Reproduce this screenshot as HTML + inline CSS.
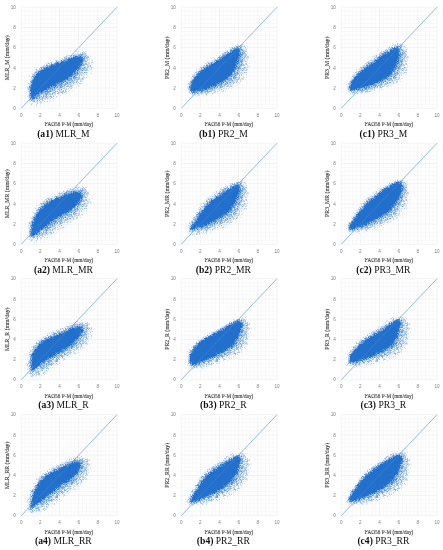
<!DOCTYPE html><html><head><meta charset="utf-8"><style>html,body{margin:0;padding:0;background:#fff;width:443px;height:550px;overflow:hidden}svg{position:absolute;left:0;top:0;display:block}.t{font-family:"Liberation Sans",Arial,sans-serif;font-size:4.6px;fill:#808080}.a{font-family:"Liberation Serif","Times New Roman",serif;font-size:5.3px;fill:#474747;stroke:#474747;stroke-width:.14px}.c{font-family:"Liberation Serif","Times New Roman",serif;font-size:9.6px;fill:#111}.y{font-family:"Liberation Serif","Times New Roman",serif;font-size:5.8px;fill:#474747;stroke:#474747;stroke-width:.14px}</style></head><body>
<svg width="443" height="550" viewBox="0 0 443 550">
<defs>
<filter id="fc" x="-20%" y="-20%" width="140%" height="140%" color-interpolation-filters="sRGB">
<feGaussianBlur in="SourceGraphic" stdDeviation="0.9" result="D"/>
<feTurbulence type="fractalNoise" baseFrequency="2.2" numOctaves="1" seed="3" result="n"/>
<feColorMatrix in="n" type="matrix" values="0 0 0 0 0 0 0 0 0 0 0 0 0 0 0 2.5 0 0 0 -.75" result="na"/>
<feComposite in="D" in2="na" operator="arithmetic" k1="0" k2="2.2" k3="-1.2" k4="0" result="d"/>
<feGaussianBlur in="d" stdDeviation="0.2" result="d2"/>
<feFlood flood-color="#2270cc"/>
<feComposite in2="d2" operator="in"/>
</filter>
<filter id="fh" x="-20%" y="-20%" width="140%" height="140%" color-interpolation-filters="sRGB">
<feGaussianBlur in="SourceGraphic" stdDeviation="1.0" result="D"/>
<feTurbulence type="fractalNoise" baseFrequency="2.2" numOctaves="1" seed="11" result="n"/>
<feColorMatrix in="n" type="matrix" values="0 0 0 0 0 0 0 0 0 0 0 0 0 0 0 2.5 0 0 0 -.75" result="na"/>
<feComposite in="D" in2="na" operator="arithmetic" k1="0" k2="1.75" k3="-0.75" k4="0" result="d"/>
<feGaussianBlur in="d" stdDeviation="0.2" result="d2"/>
<feFlood flood-color="#2270cc"/>
<feComposite in2="d2" operator="in"/>
</filter>
</defs>
<g transform="translate(0,0)"><path d="M25 7.2V108.3M21.2 104.3H117M28.9 7.2V108.3M21.2 100.2H117M32.7 7.2V108.3M21.2 96.2H117M36.5 7.2V108.3M21.2 92.1H117M44.2 7.2V108.3M21.2 84H117M48 7.2V108.3M21.2 80H117M51.9 7.2V108.3M21.2 75.9H117M55.7 7.2V108.3M21.2 71.9H117M63.4 7.2V108.3M21.2 63.8H117M67.2 7.2V108.3M21.2 59.8H117M71 7.2V108.3M21.2 55.7H117M74.8 7.2V108.3M21.2 51.7H117M82.5 7.2V108.3M21.2 43.6H117M86.3 7.2V108.3M21.2 39.6H117M90.2 7.2V108.3M21.2 35.5H117M94 7.2V108.3M21.2 31.5H117M101.7 7.2V108.3M21.2 23.4H117M105.5 7.2V108.3M21.2 19.3H117M109.3 7.2V108.3M21.2 15.3H117M113.2 7.2V108.3M21.2 11.2H117" stroke="#f3f3f3" stroke-width=".5" fill="none"/><path d="M21.2 7.2V108.3M21.2 108.3H117M40.4 7.2V108.3M21.2 88.1H117M59.5 7.2V108.3M21.2 67.9H117M78.7 7.2V108.3M21.2 47.6H117M97.8 7.2V108.3M21.2 27.4H117M117 7.2V108.3M21.2 7.2H117" stroke="#e6e6e6" stroke-width=".5" fill="none"/><path d="M21.2 108.3L117 7.2" stroke="#98c2e6" stroke-width="1.0"/><path d="M32.8 98.4L32.5 94.2L32.7 87.7L34.2 81.9L36.5 77L40.2 73.4L45.4 70.1L50.8 68.1L56.6 65.9L62.4 63.8L68.2 61.6L73.7 59.5L77.9 58.4L80.2 58.5L81.3 59.6L79.8 62.1L76.9 66.4L72.8 71.6L67.5 76.1L62.1 79.4L55.2 82.8L48 85.7L41.8 88.8L37 92.2L32.9 96.4L31.6 98.6Z" fill="#2270cc"/><g filter="url(#fh)"><path d="M90.6 75.2L88.7 77.4L86.8 79.4L85.1 81.3L83.6 83L81.7 84.4L79.8 85.7L78.2 86.9L76.6 87.9L75.1 89L73.6 89.8L72.1 90.6L70.7 91.4L69.3 92.1L68 92.8L66.7 93.5L65.4 94.1L64.1 94.7L62.8 95.3L61.5 95.9L60.2 96.6L58.9 97.2L57.5 97.9L56 98.6L54.5 99.4L52.8 100.2L51.1 101.1L49.1 102.1L47 103.1L44.6 104.3L42 105.3L39.2 106.1L36.3 106.6L33.8 106.2L31.1 105.7L29.4 103.7L28.2 101.4L27.1 99.2L27 96.2L27 93.5L27 91L27 88.7L27.2 86.5L27.6 84.3L28.1 82.2L28.5 80.3L28.9 78.5L29.3 76.8L30.4 75.2L31.5 73.7L32.4 72.3L33.4 71L34.2 69.7L35.5 68.7L36.9 67.9L38.1 67.1L39.3 66.4L40.4 65.8L41.4 65.1L42.4 64.6L43.5 64.2L44.5 63.8L45.4 63.4L46.3 63L47.2 62.6L48.1 62.2L49 61.9L49.8 61.5L50.7 61.1L51.6 60.8L52.5 60.5L53.5 60.1L54.5 59.8L55.5 59.4L56.6 59L57.8 58.6L59 58.2L60.4 57.7L62 57L63.8 56.3L65.9 55.4L68.4 54.4L71.2 53.4L74.4 52.5L78.2 51.5L82.3 50.8L85.6 51.3L87.8 52.9L90.2 54.6L92.3 56.5L92.9 59.2L93.6 61.9L94.2 64.5L94.1 67.3L92.9 70.1L91.7 72.7Z" fill-opacity=".200"/><path d="M87.8 75.2L86 77.2L84.2 79.1L82.6 80.8L81.1 82.3L79.4 83.6L77.7 84.8L76.2 85.9L74.7 86.9L73.4 87.8L71.9 88.6L70.6 89.3L69.3 90L68 90.6L66.8 91.3L65.6 91.9L64.5 92.5L63.3 93L62.1 93.6L60.9 94.2L59.7 94.7L58.5 95.3L57.2 96L55.9 96.6L54.5 97.3L53 98L51.4 98.8L49.6 99.7L47.6 100.7L45.4 101.8L43.1 102.6L40.5 103.4L37.9 103.9L35.4 103.7L32.8 103.4L29.9 103.2L28.8 100.9L27.7 98.7L27.6 95.8L27.6 93.1L27.6 90.7L27.6 88.4L27.8 86.2L28.3 84.1L28.8 82.1L29.2 80.2L29.7 78.4L30.1 76.8L31.2 75.2L32.3 73.7L33.3 72.4L34.2 71.1L35.1 70L36.3 69L37.6 68.2L38.9 67.5L40 66.8L41 66.2L42 65.6L43 65.1L44 64.7L44.9 64.3L45.8 63.9L46.7 63.6L47.6 63.2L48.4 62.9L49.2 62.5L50.1 62.2L50.9 61.8L51.8 61.5L52.6 61.2L53.5 60.9L54.5 60.5L55.5 60.2L56.5 59.8L57.6 59.4L58.8 59L60.1 58.5L61.6 57.9L63.3 57.2L65.3 56.4L67.7 55.4L70.4 54.5L73.4 53.5L77.1 52.5L81.2 51.8L84.6 52.1L86.9 53.5L89.1 55.2L90.8 57.3L91.1 60L91.4 62.6L91.7 65.2L91.5 67.8L90.2 70.5L88.9 72.9Z" fill-opacity=".079"/><path d="M85 75.2L83.3 77.1L81.7 78.8L80.2 80.3L78.7 81.7L77.1 82.9L75.6 83.9L74.2 84.9L72.9 85.8L71.6 86.6L70.3 87.3L69.1 88L67.9 88.6L66.8 89.2L65.7 89.8L64.6 90.3L63.5 90.8L62.5 91.4L61.4 91.9L60.3 92.4L59.2 92.9L58.1 93.5L57 94L55.8 94.6L54.5 95.2L53.1 95.9L51.7 96.6L50.1 97.4L48.3 98.2L46.3 99.2L44.2 100L41.9 100.7L39.4 101.3L37.1 101.2L34.5 101.2L30.4 102.7L29.3 100.4L28.3 98.2L28.1 95.4L28.2 92.8L28.2 90.4L28.3 88.1L28.5 85.9L29 83.8L29.4 81.9L30 80L30.4 78.3L30.9 76.7L32 75.2L33.1 73.8L34.1 72.5L35 71.3L36 70.2L37.2 69.3L38.4 68.5L39.6 67.8L40.6 67.2L41.6 66.6L42.6 66.1L43.6 65.6L44.5 65.2L45.4 64.8L46.3 64.5L47.1 64.1L47.9 63.8L48.7 63.5L49.5 63.2L50.3 62.8L51.1 62.5L51.9 62.2L52.7 61.9L53.6 61.6L54.5 61.3L55.4 61L56.4 60.6L57.5 60.2L58.6 59.8L59.8 59.3L61.3 58.8L62.9 58.1L64.8 57.4L67 56.5L69.5 55.6L72.5 54.6L76.1 53.6L80 52.7L83.6 52.9L85.9 54.2L88 55.8L89.3 58L89.3 60.8L89.3 63.4L89.2 65.9L88.8 68.4L87.5 70.8L86.2 73.1Z" fill-opacity=".086"/><path d="M82.2 75.2L80.6 76.9L79.1 78.4L77.7 79.8L76.3 81L74.9 82.1L73.5 83L72.2 83.9L71 84.7L69.9 85.5L68.7 86.1L67.6 86.7L66.5 87.2L65.5 87.8L64.5 88.3L63.6 88.8L62.6 89.2L61.6 89.7L60.7 90.2L59.7 90.6L58.7 91.1L57.7 91.6L56.7 92.1L55.6 92.6L54.5 93.1L53.3 93.7L52 94.3L50.5 95L49 95.8L47.2 96.6L45.3 97.3L43.2 98L41 98.6L38.7 98.7L36.3 98.9L30.8 102.1L29.8 99.8L28.9 97.6L28.7 95L28.7 92.4L28.8 90L28.9 87.8L29.2 85.6L29.7 83.6L30.1 81.7L30.7 79.9L31.2 78.2L31.7 76.7L32.9 75.2L34 73.8L35 72.6L35.9 71.5L36.9 70.5L38 69.6L39.2 68.9L40.3 68.2L41.3 67.6L42.3 67L43.2 66.5L44.1 66.1L45 65.7L45.9 65.4L46.7 65L47.5 64.7L48.3 64.4L49 64.1L49.8 63.8L50.5 63.5L51.3 63.2L52 62.9L52.8 62.6L53.6 62.3L54.5 62L55.4 61.7L56.3 61.4L57.3 61L58.4 60.6L59.6 60.2L60.9 59.7L62.4 59L64.2 58.3L66.3 57.5L68.7 56.6L71.5 55.7L75 54.7L78.9 53.7L82.5 53.7L85 54.8L86.9 56.4L87.8 58.7L87.4 61.5L87.1 64.1L86.7 66.5L86.1 68.9L84.8 71.2L83.4 73.3Z" fill-opacity=".094"/><path d="M79.4 75.2L77.9 76.7L76.5 78.1L75.2 79.3L73.9 80.4L72.6 81.3L71.3 82.2L70.2 82.9L69.1 83.6L68.1 84.3L67.1 84.8L66.1 85.4L65.1 85.8L64.2 86.3L63.4 86.8L62.5 87.2L61.7 87.6L60.8 88L60 88.4L59.1 88.8L58.3 89.3L57.4 89.7L56.4 90.1L55.5 90.6L54.5 91.1L53.4 91.6L52.2 92.1L51 92.7L49.6 93.3L48.1 94L46.4 94.7L44.5 95.3L42.5 95.9L40.4 96.2L38 96.7L31.3 101.6L30.4 99.3L29.5 97.1L29.3 94.5L29.3 92L29.4 89.7L29.5 87.5L29.9 85.4L30.3 83.4L30.8 81.5L31.4 79.8L32 78.1L32.5 76.6L33.7 75.2L34.8 73.9L35.8 72.7L36.7 71.6L37.7 70.7L38.9 69.9L40 69.2L41 68.5L42 68L42.9 67.4L43.8 67L44.7 66.6L45.5 66.2L46.4 65.9L47.1 65.6L47.9 65.3L48.6 65L49.3 64.7L50 64.4L50.7 64.2L51.5 63.9L52.2 63.6L52.9 63.3L53.7 63.1L54.5 62.8L55.3 62.5L56.2 62.2L57.1 61.8L58.2 61.4L59.3 61L60.5 60.5L62 60L63.6 59.3L65.6 58.5L67.9 57.7L70.6 56.8L73.9 55.7L77.8 54.7L81.5 54.5L84 55.4L85.8 57.1L86.3 59.5L85.6 62.3L84.9 64.8L84.3 67.2L83.4 69.4L82.1 71.5L80.7 73.5Z" fill-opacity=".104"/><path d="M76.6 75.2L75.2 76.5L74 77.7L72.7 78.8L71.5 79.7L70.3 80.6L69.2 81.3L68.2 81.9L67.2 82.5L66.4 83.1L65.5 83.6L64.6 84L63.8 84.5L63 84.9L62.2 85.3L61.5 85.6L60.7 86L60 86.4L59.3 86.7L58.5 87.1L57.8 87.4L57 87.8L56.2 88.2L55.4 88.6L54.5 89L53.5 89.4L52.5 89.8L51.5 90.3L50.3 90.9L48.9 91.5L47.5 92L45.9 92.6L44 93.3L42.1 93.8L39.7 94.4L31.7 101.1L30.9 98.8L30.1 96.6L29.8 94.1L29.9 91.6L29.9 89.3L30.1 87.2L30.5 85.1L31 83.1L31.5 81.3L32.2 79.6L32.8 78L33.4 76.6L34.5 75.2L35.6 73.9L36.6 72.8L37.5 71.8L38.6 70.9L39.7 70.2L40.8 69.5L41.8 68.9L42.7 68.4L43.5 67.8L44.4 67.4L45.2 67.1L46.1 66.8L46.8 66.5L47.6 66.2L48.3 65.9L49 65.6L49.6 65.4L50.3 65.1L51 64.8L51.6 64.6L52.3 64.3L53 64.1L53.7 63.8L54.5 63.5L55.3 63.2L56.1 62.9L57 62.6L57.9 62.3L59 61.9L60.2 61.4L61.5 60.9L63.1 60.3L64.9 59.6L67.1 58.8L69.6 57.9L72.9 56.8L76.7 55.7L80.4 55.3L83.1 56.1L84.7 57.7L84.8 60.2L83.8 63L82.8 65.6L81.8 67.9L80.7 70L79.5 71.9L78 73.6Z" fill-opacity=".116"/><path d="M73.9 75.2L72.6 76.4L71.4 77.4L70.2 78.3L69.1 79.1L68 79.8L67.1 80.4L66.2 81L65.4 81.5L64.6 82L63.8 82.4L63.1 82.7L62.4 83.1L61.7 83.4L61.1 83.8L60.4 84.1L59.8 84.4L59.2 84.7L58.5 85L57.9 85.3L57.3 85.6L56.6 85.9L55.9 86.3L55.2 86.6L54.5 86.9L53.7 87.2L52.8 87.6L51.9 88L50.9 88.4L49.8 88.9L48.6 89.4L47.2 89.9L45.6 90.6L43.7 91.3L41.4 92.2L32.2 100.6L31.4 98.2L30.7 96.1L30.4 93.7L30.5 91.2L30.5 89L30.8 86.9L31.2 84.8L31.7 82.9L32.2 81.1L32.9 79.5L33.6 77.9L34.2 76.5L35.3 75.2L36.4 74L37.5 72.9L38.4 72L39.5 71.2L40.6 70.5L41.6 69.8L42.5 69.3L43.3 68.7L44.1 68.3L45 67.9L45.8 67.6L46.6 67.3L47.3 67L48 66.7L48.7 66.5L49.3 66.2L49.9 66L50.6 65.7L51.2 65.5L51.8 65.3L52.5 65L53.1 64.8L53.8 64.5L54.5 64.3L55.2 64L56 63.7L56.8 63.4L57.7 63.1L58.7 62.7L59.8 62.3L61.1 61.8L62.5 61.2L64.2 60.6L66.2 59.8L68.7 59L71.8 57.8L75.6 56.7L79.4 56.1L82.1 56.7L83.6 58.3L83.3 61L81.9 63.8L80.6 66.3L79.3 68.5L78 70.5L76.8 72.2L75.2 73.8Z" fill-opacity=".131"/><path d="M32.7 100L30.9 94.4L31.1 87.5L32.7 81.3L35.2 76L39.2 72.1L44.7 68.7L50.3 66.6L56.1 64.4L61.8 62.3L67.6 60.1L73.3 57.9L77.8 56.8L80.9 57.1L82.9 59.3L81.2 62.9L78.2 67.4L74 72.8L68.4 77.4L62.9 80.8L55.8 84.3L48.6 87.2L42.6 90.2L38 93.4L34.2 97.4L33 99.3Z" fill-opacity="1"/></g><path d="M21.2 108.3L117 7.2" stroke="#98c2e6" stroke-width="1.0" opacity="0.15"/><text class="t" x="21.2" y="116.5" text-anchor="middle">0</text><text class="t" x="15.9" y="109.9" text-anchor="end">0</text><text class="t" x="40.4" y="116.5" text-anchor="middle">2</text><text class="t" x="15.9" y="89.7" text-anchor="end">2</text><text class="t" x="59.5" y="116.5" text-anchor="middle">4</text><text class="t" x="15.9" y="69.5" text-anchor="end">4</text><text class="t" x="78.7" y="116.5" text-anchor="middle">6</text><text class="t" x="15.9" y="49.2" text-anchor="end">6</text><text class="t" x="97.8" y="116.5" text-anchor="middle">8</text><text class="t" x="15.9" y="29" text-anchor="end">8</text><text class="t" x="117" y="116.5" text-anchor="middle">10</text><text class="t" x="15.9" y="8.8" text-anchor="end">10</text><text class="a" x="69.1" y="126" text-anchor="middle">FAO56 P-M (mm/day)</text><text class="y" transform="translate(9.2,57.8) rotate(-90)" text-anchor="middle">MLR_M (mm/day)</text><text class="c" x="63.4" y="136.6" text-anchor="middle"><tspan font-weight="bold">(a1)</tspan> MLR_M</text></g>
<g transform="translate(160,0)"><path d="M25 7.2V108.3M21.2 104.3H117M28.9 7.2V108.3M21.2 100.2H117M32.7 7.2V108.3M21.2 96.2H117M36.5 7.2V108.3M21.2 92.1H117M44.2 7.2V108.3M21.2 84H117M48 7.2V108.3M21.2 80H117M51.9 7.2V108.3M21.2 75.9H117M55.7 7.2V108.3M21.2 71.9H117M63.4 7.2V108.3M21.2 63.8H117M67.2 7.2V108.3M21.2 59.8H117M71 7.2V108.3M21.2 55.7H117M74.8 7.2V108.3M21.2 51.7H117M82.5 7.2V108.3M21.2 43.6H117M86.3 7.2V108.3M21.2 39.6H117M90.2 7.2V108.3M21.2 35.5H117M94 7.2V108.3M21.2 31.5H117M101.7 7.2V108.3M21.2 23.4H117M105.5 7.2V108.3M21.2 19.3H117M109.3 7.2V108.3M21.2 15.3H117M113.2 7.2V108.3M21.2 11.2H117" stroke="#f3f3f3" stroke-width=".5" fill="none"/><path d="M21.2 7.2V108.3M21.2 108.3H117M40.4 7.2V108.3M21.2 88.1H117M59.5 7.2V108.3M21.2 67.9H117M78.7 7.2V108.3M21.2 47.6H117M97.8 7.2V108.3M21.2 27.4H117M117 7.2V108.3M21.2 7.2H117" stroke="#e6e6e6" stroke-width=".5" fill="none"/><path d="M21.2 108.3L117 7.2" stroke="#98c2e6" stroke-width="1.0"/><path d="M32.6 89.4L32.4 86.2L33.8 82.3L37 77.9L41.5 73.1L46.9 69.5L52.6 65.9L58.4 62.3L64.2 58.7L70 55.1L74.3 52.1L76.7 50.1L78 50.3L77.8 53.9L76 59.3L73.7 66.3L70.7 71.5L66.7 76L61.3 80L54.3 83.4L47.3 86.2L40.3 88.4L34.8 89.7L32.8 90.1Z" fill="#2270cc"/><g filter="url(#fh)"><path d="M88.5 72.2L87.7 74.3L86.9 76.3L86.2 78.2L84.5 79.9L82.9 81.4L81.4 82.7L80 84L78.6 85.3L76.9 86.2L75.2 87L73.7 87.7L72.2 88.4L70.8 89.1L69.4 89.7L68 90.2L66.7 90.7L65.4 91.2L64.1 91.6L62.8 92.1L61.5 92.6L60.1 93L58.8 93.3L57.4 93.7L56 94.1L54.6 94.5L53 94.9L51.4 95.3L49.8 95.5L48.1 95.7L46.2 95.9L44.2 96.2L42.1 96.4L39.8 96.6L37.2 96.8L34.3 97L32 96.3L29.8 95.3L27.9 93.9L27.6 91.2L27.4 88.8L27.2 86.5L27 84.2L28 81.7L28.9 79.5L29.7 77.5L31.1 75.5L32.6 73.8L34 72.2L35.2 70.9L36.4 69.7L37.7 68.6L38.9 67.7L40 66.8L41 66L41.9 65.3L42.8 64.6L43.6 63.9L44.5 63.4L45.4 62.9L46.2 62.4L47 61.9L47.8 61.5L48.5 61L49.3 60.6L50 60.1L50.8 59.6L51.6 59.2L52.4 58.7L53.2 58.2L54.1 57.7L55 57.2L56 56.6L57.1 56L58.3 55.3L59.6 54.5L61.1 53.4L62.8 52.2L64.9 50.7L67.6 48.8L71 46.3L74.6 44.4L78.6 42.8L81.3 43.4L83.9 44.4L86.7 45.3L88 47.7L88.9 50.3L89.8 52.8L90.6 55.2L90.9 57.8L90.7 60.5L90.5 63L90.3 65.4L90.2 67.7L89.4 70Z" fill-opacity=".200"/><path d="M86.2 72.2L85.4 74.2L84.6 76L83.8 77.8L82.3 79.3L80.8 80.7L79.4 81.9L78.1 83.1L76.9 84.3L75.3 85.1L73.8 85.9L72.4 86.6L71 87.2L69.7 87.9L68.5 88.4L67.2 88.9L65.9 89.4L64.7 89.8L63.5 90.3L62.3 90.7L61.1 91.2L59.9 91.6L58.6 91.9L57.3 92.3L56 92.7L54.7 93.1L53.2 93.5L51.7 93.9L50.2 94.1L48.5 94.4L46.7 94.6L44.8 94.9L42.8 95.2L40.5 95.4L38 95.7L35.2 96L32.8 95.5L30.4 94.7L28.4 93.4L28.1 90.9L27.9 88.5L27.8 86.2L27.8 83.9L28.8 81.5L29.8 79.3L30.7 77.3L32.1 75.4L33.6 73.7L34.9 72.2L36.1 70.9L37.3 69.8L38.6 68.8L39.7 67.9L40.8 67.1L41.7 66.3L42.6 65.6L43.4 65L44.3 64.4L45.1 63.9L45.9 63.4L46.7 62.9L47.4 62.4L48.2 62L48.9 61.6L49.6 61.1L50.3 60.7L51.1 60.3L51.8 59.8L52.6 59.4L53.4 58.9L54.2 58.4L55.1 57.9L56 57.4L57 56.8L58.1 56.1L59.4 55.3L60.8 54.4L62.5 53.2L64.5 51.8L67 50L70.2 47.7L73.7 45.8L77.6 44.2L80.6 44.2L83.2 45.1L85.6 46.3L86.8 48.6L87.4 51.3L88 53.8L88.6 56.2L88.8 58.7L88.6 61.2L88.3 63.6L88 65.9L87.8 68.1L87 70.2Z" fill-opacity=".079"/><path d="M83.9 72.2L83 74L82.2 75.7L81.5 77.3L80.1 78.7L78.8 80L77.5 81.1L76.3 82.2L75.1 83.3L73.7 84.1L72.3 84.8L71 85.4L69.8 86L68.7 86.6L67.5 87.2L66.3 87.7L65.2 88.1L64.1 88.5L63 89L61.8 89.4L60.7 89.8L59.6 90.2L58.4 90.6L57.2 90.9L56 91.3L54.7 91.7L53.4 92.1L52 92.5L50.5 92.8L49 93L47.3 93.4L45.4 93.7L43.5 94L41.3 94.3L38.9 94.6L36.1 95L33.6 94.7L31 94.2L28.9 93L28.6 90.6L28.4 88.2L28.4 85.9L28.5 83.6L29.6 81.2L30.7 79L31.7 77.1L33 75.3L34.5 73.7L35.7 72.2L36.9 71L38.2 69.9L39.4 68.9L40.5 68.1L41.5 67.3L42.4 66.6L43.3 66L44.1 65.4L44.9 64.8L45.7 64.3L46.5 63.8L47.2 63.4L47.9 63L48.6 62.5L49.3 62.1L50 61.7L50.6 61.3L51.3 60.9L52 60.5L52.8 60L53.5 59.6L54.3 59.1L55.1 58.6L56 58.1L57 57.5L58 56.9L59.2 56.2L60.6 55.3L62.2 54.2L64 52.9L66.4 51.3L69.4 49.1L72.7 47.3L76.6 45.5L80 44.9L82.5 45.8L84.6 47.2L85.5 49.6L85.9 52.3L86.3 54.8L86.7 57.1L86.7 59.5L86.4 61.9L86.1 64.2L85.7 66.3L85.4 68.4L84.7 70.4Z" fill-opacity=".086"/><path d="M81.5 72.2L80.7 73.9L79.9 75.4L79.1 76.8L77.9 78.1L76.7 79.2L75.6 80.3L74.4 81.3L73.4 82.2L72.1 83L70.9 83.6L69.7 84.3L68.6 84.8L67.6 85.4L66.5 85.9L65.5 86.4L64.4 86.8L63.4 87.2L62.4 87.6L61.4 88L60.4 88.4L59.3 88.8L58.3 89.2L57.2 89.5L56 89.9L54.8 90.3L53.6 90.7L52.3 91.1L50.9 91.4L49.4 91.7L47.8 92.1L46.1 92.5L44.1 92.8L42.1 93.1L39.7 93.5L37 94L34.4 93.9L31.7 93.6L29.5 92.6L29.1 90.2L28.9 87.9L29 85.6L29.2 83.3L30.4 80.9L31.6 78.8L32.6 76.9L34 75.1L35.4 73.6L36.6 72.2L37.8 71L39 70L40.2 69.1L41.3 68.3L42.3 67.6L43.2 66.9L44 66.3L44.8 65.7L45.5 65.2L46.3 64.8L47 64.3L47.7 63.9L48.4 63.5L49 63.1L49.7 62.7L50.3 62.3L50.9 61.9L51.6 61.5L52.3 61.1L52.9 60.7L53.6 60.3L54.4 59.8L55.2 59.4L56 58.9L56.9 58.3L57.9 57.7L59 57L60.3 56.2L61.8 55.2L63.6 54L65.8 52.5L68.6 50.5L71.7 48.7L75.5 46.8L79.3 45.7L81.8 46.5L83.5 48.1L84.3 50.5L84.4 53.3L84.5 55.8L84.7 58.1L84.6 60.4L84.3 62.7L83.9 64.8L83.4 66.8L83 68.7L82.3 70.5Z" fill-opacity=".094"/><path d="M79.2 72.2L78.3 73.7L77.5 75.1L76.8 76.4L75.7 77.5L74.6 78.5L73.6 79.5L72.6 80.4L71.6 81.2L70.5 81.9L69.4 82.5L68.4 83.1L67.4 83.7L66.5 84.2L65.6 84.7L64.6 85.1L63.7 85.5L62.8 85.9L61.9 86.3L60.9 86.7L60 87.1L59 87.4L58.1 87.8L57.1 88.2L56 88.5L54.9 88.9L53.8 89.3L52.5 89.7L51.3 90L49.9 90.4L48.3 90.8L46.7 91.2L44.8 91.6L42.8 92L40.5 92.4L37.9 93L35.2 93.1L32.3 93L30 92.2L29.6 89.9L29.4 87.6L29.6 85.3L30 83L31.2 80.7L32.4 78.6L33.6 76.7L35 75L36.3 73.5L37.5 72.2L38.7 71.1L39.9 70.1L41.1 69.3L42.1 68.5L43 67.8L43.9 67.2L44.7 66.6L45.4 66.1L46.1 65.6L46.9 65.2L47.5 64.8L48.2 64.4L48.8 64L49.4 63.6L50 63.3L50.6 62.9L51.2 62.5L51.8 62.2L52.5 61.8L53.1 61.4L53.8 61L54.5 60.6L55.2 60.1L56 59.6L56.9 59.1L57.8 58.5L58.9 57.9L60.1 57.1L61.5 56.2L63.1 55.1L65.2 53.7L67.8 51.9L70.8 50.2L74.5 48.1L78.7 46.4L81.1 47.2L82.5 49L83 51.5L82.9 54.3L82.8 56.8L82.7 59.1L82.5 61.3L82.1 63.4L81.7 65.4L81.1 67.2L80.6 69L79.9 70.7Z" fill-opacity=".104"/><path d="M76.8 72.2L76 73.5L75.2 74.8L74.4 75.9L73.5 76.9L72.5 77.8L71.7 78.7L70.7 79.5L69.9 80.2L68.9 80.8L68 81.4L67.1 81.9L66.2 82.5L65.4 83L64.6 83.4L63.8 83.9L63 84.3L62.1 84.6L61.3 85L60.5 85.3L59.6 85.7L58.8 86.1L57.9 86.4L57 86.8L56 87.2L55 87.6L54 87.9L52.8 88.3L51.6 88.7L50.3 89.1L48.9 89.5L47.3 90L45.5 90.4L43.6 90.9L41.4 91.4L38.7 92L36 92.3L32.9 92.5L30.6 91.8L30 89.6L29.9 87.3L30.2 85L30.7 82.7L32 80.4L33.3 78.3L34.5 76.5L35.9 74.9L37.2 73.5L38.3 72.2L39.6 71.2L40.8 70.2L41.9 69.4L42.9 68.7L43.8 68.1L44.6 67.5L45.4 67L46.1 66.5L46.8 66.1L47.4 65.7L48.1 65.3L48.7 64.9L49.3 64.5L49.8 64.2L50.4 63.8L51 63.5L51.5 63.1L52.1 62.8L52.7 62.4L53.3 62.1L53.9 61.7L54.6 61.3L55.3 60.8L56 60.4L56.8 59.9L57.7 59.4L58.7 58.7L59.8 58L61.1 57.2L62.7 56.1L64.6 54.9L67 53.3L69.8 51.6L73.5 49.4L78 47.1L80.4 47.9L81.4 50L81.8 52.5L81.4 55.3L81 57.8L80.8 60L80.4 62.1L79.9 64.1L79.5 66L78.8 67.7L78.2 69.3L77.5 70.8Z" fill-opacity=".116"/><path d="M74.5 72.2L73.6 73.4L72.8 74.4L72.1 75.4L71.3 76.3L70.5 77.1L69.7 77.9L68.9 78.6L68.1 79.2L67.3 79.8L66.5 80.3L65.8 80.8L65 81.3L64.3 81.7L63.7 82.2L63 82.6L62.2 83L61.5 83.3L60.7 83.6L60 84L59.3 84.3L58.5 84.7L57.7 85L56.9 85.4L56 85.8L55.1 86.2L54.1 86.6L53.1 86.9L52 87.3L50.8 87.7L49.4 88.2L47.9 88.7L46.2 89.2L44.3 89.7L42.2 90.3L39.6 91L36.8 91.5L33.6 91.9L31.1 91.3L30.5 89.3L30.4 87L30.8 84.7L31.5 82.4L32.8 80.1L34.2 78.1L35.5 76.3L36.9 74.8L38.1 73.4L39.2 72.2L40.4 71.2L41.7 70.3L42.8 69.6L43.7 68.9L44.6 68.4L45.4 67.8L46.1 67.3L46.8 66.9L47.4 66.5L48 66.1L48.6 65.7L49.2 65.4L49.7 65L50.3 64.7L50.8 64.4L51.3 64.1L51.8 63.7L52.4 63.4L52.9 63.1L53.5 62.7L54.1 62.4L54.7 62L55.3 61.6L56 61.2L56.8 60.7L57.6 60.2L58.5 59.6L59.6 58.9L60.8 58.1L62.2 57.2L64 56.1L66.2 54.7L68.8 53.1L72.5 50.8L77.4 47.9L79.7 48.6L80.4 50.9L80.5 53.4L79.8 56.3L79.3 58.8L78.8 61L78.3 63L77.8 64.9L77.3 66.5L76.5 68.2L75.8 69.6L75.1 71Z" fill-opacity=".131"/><path d="M31.1 89.9L30.8 86L32.4 81.6L35.8 76.9L40.4 71.8L46 68.2L51.8 64.6L57.6 61L63.3 57.3L69.1 53.7L73.3 50.8L76.4 48.5L79.2 49.3L79.4 54.1L77.5 59.8L75.2 66.9L72 72.4L67.7 77.2L62.1 81.4L55 84.9L47.9 87.7L40.7 89.9L35.1 91.3L32.1 91.6Z" fill-opacity="1"/></g><path d="M21.2 108.3L117 7.2" stroke="#98c2e6" stroke-width="1.0" opacity="0.15"/><text class="t" x="21.2" y="116.5" text-anchor="middle">0</text><text class="t" x="15.9" y="109.9" text-anchor="end">0</text><text class="t" x="40.4" y="116.5" text-anchor="middle">2</text><text class="t" x="15.9" y="89.7" text-anchor="end">2</text><text class="t" x="59.5" y="116.5" text-anchor="middle">4</text><text class="t" x="15.9" y="69.5" text-anchor="end">4</text><text class="t" x="78.7" y="116.5" text-anchor="middle">6</text><text class="t" x="15.9" y="49.2" text-anchor="end">6</text><text class="t" x="97.8" y="116.5" text-anchor="middle">8</text><text class="t" x="15.9" y="29" text-anchor="end">8</text><text class="t" x="117" y="116.5" text-anchor="middle">10</text><text class="t" x="15.9" y="8.8" text-anchor="end">10</text><text class="a" x="69.1" y="126" text-anchor="middle">FAO56 P-M (mm/day)</text><text class="y" transform="translate(9.2,57.8) rotate(-90)" text-anchor="middle">PR2_M (mm/day)</text><text class="c" x="63.4" y="136.6" text-anchor="middle"><tspan font-weight="bold">(b1)</tspan> PR2_M</text></g>
<g transform="translate(320,0)"><path d="M25 7.2V108.3M21.2 104.3H117M28.9 7.2V108.3M21.2 100.2H117M32.7 7.2V108.3M21.2 96.2H117M36.5 7.2V108.3M21.2 92.1H117M44.2 7.2V108.3M21.2 84H117M48 7.2V108.3M21.2 80H117M51.9 7.2V108.3M21.2 75.9H117M55.7 7.2V108.3M21.2 71.9H117M63.4 7.2V108.3M21.2 63.8H117M67.2 7.2V108.3M21.2 59.8H117M71 7.2V108.3M21.2 55.7H117M74.8 7.2V108.3M21.2 51.7H117M82.5 7.2V108.3M21.2 43.6H117M86.3 7.2V108.3M21.2 39.6H117M90.2 7.2V108.3M21.2 35.5H117M94 7.2V108.3M21.2 31.5H117M101.7 7.2V108.3M21.2 23.4H117M105.5 7.2V108.3M21.2 19.3H117M109.3 7.2V108.3M21.2 15.3H117M113.2 7.2V108.3M21.2 11.2H117" stroke="#f3f3f3" stroke-width=".5" fill="none"/><path d="M21.2 7.2V108.3M21.2 108.3H117M40.4 7.2V108.3M21.2 88.1H117M59.5 7.2V108.3M21.2 67.9H117M78.7 7.2V108.3M21.2 47.6H117M97.8 7.2V108.3M21.2 27.4H117M117 7.2V108.3M21.2 7.2H117" stroke="#e6e6e6" stroke-width=".5" fill="none"/><path d="M21.2 108.3L117 7.2" stroke="#98c2e6" stroke-width="1.0"/><path d="M31.7 88.9L32.1 85.7L33.7 81.8L37.5 77.3L42.2 73.1L47.9 68.8L53.6 64.4L59.3 60.1L64.9 56.5L70.6 52.9L74.3 50.5L76.7 49.4L77.4 51.4L76.7 56.7L74.9 63.4L71.8 69.2L67.6 74.2L62.4 78L55.5 81.4L48.6 84.1L41.6 86.2L34.5 87.6L31.4 88.6Z" fill="#2270cc"/><g filter="url(#fh)"><path d="M88 70.8L87.5 72.8L86.4 74.7L85 76.4L83.6 78L82.3 79.5L81.1 80.9L79.7 82.2L78 83.2L76.4 84L74.9 84.9L73.5 85.6L72.2 86.4L70.8 87L69.4 87.4L68 87.9L66.7 88.3L65.4 88.7L64.2 89.2L63 89.6L61.7 89.9L60.5 90.3L59.2 90.6L57.9 90.9L56.6 91.2L55.2 91.6L53.8 91.9L52.3 92.3L50.7 92.7L49 93L47.2 93.4L45.2 93.9L43 94.3L40.7 94.5L38.3 94.7L35.5 94.8L32.6 94.7L29.8 94.2L27.2 93.3L27.2 90.4L27.1 87.8L27.1 85.3L27 83L28.5 80.3L29.9 77.9L31.1 75.8L32.6 73.9L34.1 72.3L35.4 70.8L36.6 69.5L37.7 68.3L39 67.3L40.1 66.4L41.2 65.6L42.1 64.8L43 64.1L43.8 63.4L44.6 62.8L45.4 62.2L46.2 61.7L47 61.1L47.7 60.6L48.4 60.1L49.1 59.6L49.9 59.1L50.6 58.6L51.3 58.1L52.1 57.5L52.9 56.9L53.7 56.3L54.6 55.6L55.5 54.8L56.6 53.9L57.7 53L59.1 52L60.5 50.9L62.2 49.7L64.2 48.4L66.5 46.7L69.1 45.5L72 44L75.3 42.8L78.5 42.2L82.2 41.6L83.8 43.5L85.5 45.4L87.2 47.3L88.9 49.2L89.4 51.8L89.6 54.5L89.9 57L90.1 59.4L90.3 61.7L89.7 64.2L89.1 66.5L88.6 68.7Z" fill-opacity=".200"/><path d="M85.8 70.8L85.3 72.7L84.2 74.4L82.9 76L81.6 77.5L80.4 78.9L79.3 80.2L78 81.3L76.4 82.2L75 83.1L73.6 83.8L72.3 84.6L71.1 85.2L69.8 85.8L68.5 86.3L67.2 86.7L66 87.1L64.8 87.5L63.7 87.9L62.5 88.3L61.4 88.7L60.2 89L59 89.3L57.8 89.7L56.6 90L55.3 90.3L54 90.7L52.6 91.1L51.1 91.4L49.4 91.8L47.7 92.2L45.8 92.7L43.7 93.2L41.5 93.4L39.1 93.6L36.4 93.8L33.5 93.8L30.7 93.5L27.8 92.8L27.7 90.1L27.6 87.5L27.7 85L27.8 82.7L29.4 80L30.8 77.7L32.2 75.6L33.7 73.8L35.2 72.2L36.5 70.8L37.6 69.5L38.7 68.4L39.9 67.5L41 66.6L42 65.8L42.9 65.1L43.7 64.4L44.5 63.8L45.3 63.2L46 62.7L46.8 62.2L47.5 61.7L48.2 61.2L48.8 60.7L49.5 60.2L50.2 59.7L50.9 59.2L51.6 58.8L52.3 58.2L53.1 57.6L53.8 57L54.7 56.3L55.6 55.6L56.6 54.8L57.7 54L58.9 53L60.3 52L61.9 50.9L63.8 49.6L66 48.1L68.4 46.8L71.2 45.4L74.4 44.1L77.7 43.3L81.3 42.6L83 44.3L84.6 46.2L86 48.2L87.4 50.2L87.7 52.8L87.9 55.4L88 57.8L88.1 60.1L88.2 62.3L87.5 64.6L86.9 66.8L86.4 68.8Z" fill-opacity=".079"/><path d="M83.6 70.8L83 72.5L82 74.1L80.8 75.6L79.6 76.9L78.5 78.2L77.5 79.4L76.3 80.5L74.8 81.3L73.5 82.1L72.2 82.8L71.1 83.5L69.9 84.1L68.8 84.7L67.6 85.1L66.4 85.5L65.3 85.9L64.3 86.3L63.2 86.7L62.1 87.1L61.1 87.5L60 87.8L58.9 88.1L57.7 88.4L56.6 88.8L55.4 89.1L54.1 89.5L52.8 89.8L51.4 90.2L49.9 90.6L48.2 91L46.4 91.5L44.3 92L42.2 92.2L39.9 92.5L37.2 92.8L34.4 92.9L31.5 92.7L28.4 92.4L28.1 89.8L28.1 87.2L28.3 84.7L28.6 82.4L30.2 79.7L31.7 77.4L33.2 75.4L34.7 73.7L36.2 72.1L37.5 70.8L38.6 69.6L39.7 68.6L40.9 67.7L41.9 66.8L42.8 66.1L43.7 65.4L44.5 64.8L45.2 64.2L45.9 63.7L46.6 63.1L47.3 62.7L48 62.2L48.6 61.7L49.3 61.3L49.9 60.8L50.6 60.3L51.2 59.9L51.9 59.4L52.6 58.9L53.3 58.4L54 57.8L54.8 57.1L55.6 56.5L56.6 55.7L57.6 54.9L58.8 54L60.1 53.1L61.6 52L63.4 50.8L65.4 49.4L67.7 48.2L70.5 46.8L73.5 45.4L76.9 44.3L80.5 43.5L82.2 45.2L83.7 47L84.7 49.2L85.9 51.2L86.1 53.7L86.1 56.2L86.1 58.5L86.2 60.7L86.1 62.9L85.4 65L84.8 67.1L84.2 69Z" fill-opacity=".086"/><path d="M81.4 70.8L80.7 72.4L79.8 73.8L78.7 75.2L77.6 76.4L76.6 77.6L75.6 78.7L74.5 79.6L73.2 80.4L72 81.1L70.9 81.8L69.8 82.4L68.8 83L67.8 83.5L66.7 84L65.7 84.4L64.6 84.7L63.7 85.1L62.7 85.5L61.7 85.9L60.7 86.2L59.7 86.5L58.7 86.9L57.7 87.2L56.6 87.5L55.5 87.9L54.3 88.2L53 88.6L51.7 89L50.3 89.4L48.7 89.8L47 90.3L45 90.8L43 91.1L40.7 91.5L38.1 91.8L35.4 92L32.4 92L29 92L28.6 89.5L28.6 86.9L29 84.4L29.4 82L31.1 79.4L32.6 77.2L34.2 75.2L35.8 73.5L37.2 72.1L38.5 70.8L39.6 69.7L40.7 68.7L41.8 67.8L42.8 67.1L43.6 66.4L44.4 65.7L45.2 65.2L45.9 64.6L46.6 64.1L47.2 63.6L47.9 63.1L48.5 62.7L49.1 62.3L49.7 61.8L50.3 61.4L50.9 61L51.5 60.5L52.2 60.1L52.8 59.6L53.5 59.1L54.1 58.5L54.9 57.9L55.7 57.3L56.6 56.6L57.6 55.8L58.7 55L59.9 54.1L61.3 53.2L62.9 52L64.9 50.7L67.1 49.6L69.7 48.1L72.7 46.7L76.1 45.4L79.7 44.5L81.4 46L82.7 47.9L83.5 50.1L84.4 52.2L84.4 54.7L84.3 57.1L84.3 59.3L84.2 61.4L83.9 63.5L83.2 65.5L82.6 67.4L82 69.1Z" fill-opacity=".094"/><path d="M79.2 70.8L78.5 72.2L77.6 73.5L76.6 74.8L75.6 75.9L74.7 76.9L73.8 77.9L72.8 78.8L71.6 79.5L70.6 80.1L69.6 80.7L68.6 81.3L67.7 81.9L66.8 82.4L65.8 82.8L64.9 83.2L64 83.6L63.1 83.9L62.2 84.3L61.3 84.6L60.4 85L59.5 85.3L58.5 85.6L57.6 85.9L56.6 86.3L55.5 86.7L54.4 87L53.3 87.4L52 87.8L50.7 88.2L49.2 88.6L47.5 89.1L45.7 89.6L43.8 90L41.5 90.4L39 90.8L36.3 91.1L33.2 91.3L29.6 91.5L29 89.2L29.1 86.7L29.6 84.1L30.2 81.7L32 79.1L33.6 76.9L35.2 75L36.8 73.4L38.2 72L39.5 70.8L40.7 69.7L41.7 68.8L42.7 68L43.6 67.3L44.4 66.7L45.2 66.1L45.9 65.5L46.6 65L47.2 64.5L47.8 64.1L48.4 63.6L49 63.2L49.6 62.8L50.1 62.4L50.7 62L51.3 61.6L51.8 61.2L52.4 60.7L53 60.3L53.6 59.8L54.3 59.3L55 58.7L55.8 58.2L56.6 57.5L57.5 56.8L58.5 56L59.7 55.2L61 54.3L62.5 53.3L64.3 52.1L66.4 50.9L68.9 49.5L71.8 48L75.3 46.4L78.8 45.4L80.5 46.8L81.8 48.7L82.3 51L82.9 53.2L82.8 55.6L82.6 58L82.4 60.1L82.2 62.1L81.8 64L81.1 65.9L80.4 67.6L79.8 69.3Z" fill-opacity=".104"/><path d="M76.9 70.8L76.2 72.1L75.4 73.3L74.4 74.3L73.6 75.3L72.8 76.3L72 77.2L71 77.9L70 78.5L69.1 79.1L68.2 79.7L67.4 80.2L66.6 80.8L65.8 81.2L64.9 81.7L64.1 82L63.3 82.4L62.5 82.7L61.7 83L60.9 83.4L60.1 83.7L59.2 84L58.4 84.4L57.5 84.7L56.6 85.1L55.6 85.4L54.6 85.8L53.5 86.1L52.4 86.5L51.1 86.9L49.7 87.4L48.1 87.9L46.4 88.4L44.5 88.8L42.4 89.3L39.9 89.8L37.2 90.2L34.1 90.5L30.2 91.1L29.5 88.9L29.6 86.4L30.2 83.8L31 81.4L32.9 78.8L34.5 76.7L36.3 74.8L37.8 73.2L39.2 71.9L40.5 70.8L41.7 69.8L42.7 68.9L43.6 68.2L44.5 67.5L45.3 66.9L46 66.4L46.6 65.9L47.3 65.4L47.9 64.9L48.4 64.5L49 64.1L49.5 63.7L50.1 63.3L50.6 63L51.1 62.6L51.6 62.2L52.2 61.8L52.7 61.4L53.3 61L53.8 60.5L54.5 60.1L55.1 59.5L55.8 59L56.6 58.4L57.4 57.7L58.4 57L59.5 56.2L60.7 55.4L62.1 54.5L63.8 53.4L65.7 52.3L68.1 50.9L70.9 49.3L74.5 47.5L78 46.4L79.7 47.6L80.9 49.5L81.1 52L81.4 54.2L81.2 56.6L80.8 58.8L80.5 60.9L80.2 62.7L79.7 64.6L78.9 66.3L78.3 67.9L77.7 69.4Z" fill-opacity=".116"/><path d="M74.7 70.8L73.9 71.9L73.1 73L72.3 73.9L71.6 74.8L70.9 75.6L70.1 76.4L69.3 77L68.4 77.6L67.6 78.2L66.9 78.7L66.1 79.2L65.4 79.6L64.7 80.1L64.1 80.5L63.3 80.8L62.6 81.2L61.9 81.5L61.2 81.8L60.4 82.1L59.7 82.5L59 82.8L58.2 83.1L57.4 83.5L56.6 83.8L55.7 84.2L54.8 84.5L53.8 84.9L52.7 85.3L51.5 85.7L50.2 86.2L48.7 86.7L47.1 87.2L45.3 87.7L43.2 88.2L40.7 88.8L38.1 89.3L34.9 89.8L30.7 90.6L30 88.6L30.1 86.1L30.9 83.5L31.8 81.1L33.8 78.5L35.4 76.5L37.3 74.6L38.9 73.1L40.2 71.9L41.6 70.8L42.7 69.9L43.7 69.1L44.6 68.4L45.4 67.8L46.1 67.2L46.7 66.7L47.4 66.2L47.9 65.8L48.5 65.4L49 65L49.5 64.6L50 64.2L50.5 63.9L51 63.5L51.5 63.2L52 62.8L52.5 62.4L53 62.1L53.5 61.7L54 61.2L54.6 60.8L55.2 60.3L55.9 59.8L56.6 59.3L57.4 58.7L58.3 58L59.3 57.3L60.4 56.6L61.7 55.7L63.2 54.7L65 53.6L67.3 52.2L70.1 50.6L73.7 48.5L77.2 47.3L78.9 48.5L79.9 50.3L79.9 52.9L79.9 55.2L79.5 57.5L79.1 59.7L78.7 61.6L78.3 63.4L77.5 65.2L76.8 66.8L76.1 68.2L75.5 69.5Z" fill-opacity=".131"/><path d="M30.4 89.8L30.6 85.4L32.4 81L36.3 76.2L41.2 71.8L46.9 67.5L52.7 63.2L58.4 58.8L64.1 55.2L69.8 51.5L73.7 49.1L77.4 47.9L79 51.1L78.3 57L76.4 64L73.1 70.1L68.7 75.3L63.2 79.3L56.2 82.8L49.1 85.6L42 87.8L34.9 89.2L31.4 90.2Z" fill-opacity="1"/></g><path d="M21.2 108.3L117 7.2" stroke="#98c2e6" stroke-width="1.0" opacity="0.15"/><text class="t" x="21.2" y="116.5" text-anchor="middle">0</text><text class="t" x="15.9" y="109.9" text-anchor="end">0</text><text class="t" x="40.4" y="116.5" text-anchor="middle">2</text><text class="t" x="15.9" y="89.7" text-anchor="end">2</text><text class="t" x="59.5" y="116.5" text-anchor="middle">4</text><text class="t" x="15.9" y="69.5" text-anchor="end">4</text><text class="t" x="78.7" y="116.5" text-anchor="middle">6</text><text class="t" x="15.9" y="49.2" text-anchor="end">6</text><text class="t" x="97.8" y="116.5" text-anchor="middle">8</text><text class="t" x="15.9" y="29" text-anchor="end">8</text><text class="t" x="117" y="116.5" text-anchor="middle">10</text><text class="t" x="15.9" y="8.8" text-anchor="end">10</text><text class="a" x="69.1" y="126" text-anchor="middle">FAO56 P-M (mm/day)</text><text class="y" transform="translate(9.2,57.8) rotate(-90)" text-anchor="middle">PR3_M (mm/day)</text><text class="c" x="63.4" y="136.6" text-anchor="middle"><tspan font-weight="bold">(c1)</tspan> PR3_M</text></g>
<g transform="translate(0,136)"><path d="M25 7.2V108.3M21.2 104.3H117M28.9 7.2V108.3M21.2 100.2H117M32.7 7.2V108.3M21.2 96.2H117M36.5 7.2V108.3M21.2 92.1H117M44.2 7.2V108.3M21.2 84H117M48 7.2V108.3M21.2 80H117M51.9 7.2V108.3M21.2 75.9H117M55.7 7.2V108.3M21.2 71.9H117M63.4 7.2V108.3M21.2 63.8H117M67.2 7.2V108.3M21.2 59.8H117M71 7.2V108.3M21.2 55.7H117M74.8 7.2V108.3M21.2 51.7H117M82.5 7.2V108.3M21.2 43.6H117M86.3 7.2V108.3M21.2 39.6H117M90.2 7.2V108.3M21.2 35.5H117M94 7.2V108.3M21.2 31.5H117M101.7 7.2V108.3M21.2 23.4H117M105.5 7.2V108.3M21.2 19.3H117M109.3 7.2V108.3M21.2 15.3H117M113.2 7.2V108.3M21.2 11.2H117" stroke="#f3f3f3" stroke-width=".5" fill="none"/><path d="M21.2 7.2V108.3M21.2 108.3H117M40.4 7.2V108.3M21.2 88.1H117M59.5 7.2V108.3M21.2 67.9H117M78.7 7.2V108.3M21.2 47.6H117M97.8 7.2V108.3M21.2 27.4H117M117 7.2V108.3M21.2 7.2H117" stroke="#e6e6e6" stroke-width=".5" fill="none"/><path d="M21.2 108.3L117 7.2" stroke="#98c2e6" stroke-width="1.0"/><path d="M31.9 99.6L33.2 94.9L34.6 88.3L37.4 81.6L41.5 75L46 70.5L51.3 67.2L57.5 64.4L64 61.6L69.5 59.5L74.6 58L77.7 57.9L79.5 58.8L79.2 61.4L76.9 65L73 69.2L67.6 73.1L61.9 76.6L56.1 80.2L50.2 84L44.3 88.4L38.5 92.8L34.1 96.5L31.5 98.7Z" fill="#2270cc"/><g filter="url(#fh)"><path d="M87.7 74.7L85.8 76.7L84.1 78.5L82.5 80.2L80.8 81.7L78.8 82.9L77 83.9L75.4 84.9L74 85.8L72.6 86.6L71.3 87.3L70 88.1L68.8 88.8L67.7 89.4L66.5 90.1L65.5 90.7L64.4 91.4L63.3 92.1L62.2 92.7L61.1 93.4L60 94.2L58.8 94.9L57.5 95.8L56.2 96.7L54.7 97.7L53.2 98.8L51.4 100L49.5 101.1L47.3 102.3L44.9 103.6L42.3 104.6L39.5 105.5L36.3 106.6L33.5 106.4L30.8 105.9L28 105.1L27.7 101.7L27.4 98.7L27.1 95.9L27.2 93L27.7 90.3L28.1 87.8L28.5 85.5L29.5 83.3L30.3 81.2L31.1 79.4L31.8 77.7L32.6 76.1L33.5 74.7L34.4 73.3L35.1 72.1L35.9 70.9L36.6 69.8L37.3 68.8L38.2 67.8L39.2 67L40.1 66.2L41 65.5L41.8 64.7L42.6 64L43.4 63.4L44.4 62.9L45.3 62.4L46.2 61.9L47.1 61.5L48 61.1L48.9 60.6L49.8 60.2L50.7 59.7L51.7 59.3L52.7 58.9L53.7 58.5L54.7 58L55.9 57.6L57.1 57.1L58.3 56.5L59.8 55.9L61.3 55.3L63.1 54.5L65.1 53.7L67.4 52.7L69.9 51.9L72.9 51L76.2 50.2L79.5 49.9L83.2 49.7L85.4 51.1L87.7 52.6L90.1 54.2L91.1 56.7L91.5 59.4L91.9 62L92.3 64.6L91.3 67.4L90.1 70L89 72.4Z" fill-opacity=".200"/><path d="M84.9 74.7L83.1 76.5L81.5 78.2L80 79.7L78.4 81L76.6 82.1L75 83.1L73.5 84L72.2 84.8L70.9 85.5L69.7 86.2L68.6 86.8L67.5 87.5L66.5 88.1L65.5 88.7L64.5 89.3L63.5 89.9L62.5 90.5L61.5 91.1L60.5 91.7L59.5 92.4L58.4 93.1L57.3 93.9L56 94.7L54.7 95.6L53.3 96.6L51.7 97.7L50 98.7L48 99.7L45.8 101L43.4 102L40.8 102.9L37.8 104L35.1 104.1L32.1 104.1L28.7 104.4L28.2 101.2L28 98.1L27.9 95.3L28 92.5L28.5 89.8L29 87.4L29.5 85.1L30.4 82.9L31.2 81L32 79.2L32.7 77.6L33.5 76.1L34.4 74.7L35.2 73.4L36 72.2L36.8 71.1L37.5 70.1L38.2 69L39.1 68.2L40 67.4L40.8 66.6L41.7 65.9L42.5 65.3L43.2 64.6L44 64L44.9 63.5L45.8 63L46.7 62.6L47.5 62.2L48.4 61.7L49.2 61.3L50.1 60.9L50.9 60.5L51.8 60.1L52.8 59.7L53.7 59.3L54.7 58.9L55.8 58.4L56.9 57.9L58.2 57.4L59.5 56.9L61 56.2L62.7 55.5L64.6 54.7L66.8 53.8L69.2 53L72 52.1L75.3 51.3L78.5 50.9L82.1 50.7L84.4 51.9L86.7 53.4L88.8 55L89.6 57.5L89.7 60.2L89.8 62.8L89.9 65.3L88.7 67.9L87.4 70.4L86.2 72.6Z" fill-opacity=".079"/><path d="M82.1 74.7L80.4 76.4L78.9 77.9L77.5 79.2L76 80.4L74.4 81.4L73 82.2L71.6 83L70.4 83.7L69.3 84.4L68.2 85L67.2 85.6L66.3 86.2L65.3 86.7L64.4 87.3L63.5 87.8L62.6 88.4L61.8 88.9L60.9 89.5L59.9 90L59 90.6L58 91.2L57 92L55.9 92.7L54.7 93.5L53.4 94.4L52 95.4L50.4 96.3L48.7 97.2L46.7 98.4L44.5 99.3L42.1 100.3L39.3 101.5L36.6 101.9L33.5 102.3L29.3 103.6L28.7 100.7L28.6 97.6L28.6 94.8L28.8 92L29.3 89.3L29.9 86.9L30.4 84.7L31.3 82.6L32.2 80.7L33 79L33.7 77.4L34.5 76L35.3 74.7L36.1 73.5L36.9 72.3L37.7 71.3L38.4 70.3L39 69.3L39.9 68.5L40.7 67.8L41.5 67.1L42.4 66.4L43.1 65.8L43.9 65.2L44.6 64.6L45.5 64.1L46.3 63.7L47.1 63.3L47.9 62.8L48.7 62.4L49.5 62L50.3 61.6L51.1 61.2L52 60.9L52.9 60.5L53.8 60.1L54.7 59.7L55.7 59.3L56.8 58.8L58 58.3L59.3 57.8L60.7 57.2L62.3 56.5L64.1 55.8L66.2 54.9L68.5 54.1L71.2 53.2L74.3 52.3L77.5 51.9L81 51.6L83.4 52.7L85.6 54.1L87.5 55.8L88.1 58.2L88 60.9L87.7 63.5L87.4 65.9L86.2 68.4L84.7 70.7L83.4 72.8Z" fill-opacity=".086"/><path d="M79.3 74.7L77.7 76.2L76.2 77.5L75 78.7L73.6 79.7L72.2 80.6L70.9 81.4L69.8 82.1L68.7 82.7L67.7 83.3L66.7 83.9L65.8 84.4L65 84.9L64.1 85.4L63.3 85.9L62.5 86.4L61.8 86.8L61 87.3L60.2 87.8L59.4 88.3L58.5 88.9L57.7 89.4L56.8 90L55.8 90.7L54.7 91.4L53.6 92.2L52.3 93.1L50.9 93.8L49.4 94.7L47.6 95.7L45.6 96.7L43.4 97.7L40.8 98.9L38.1 99.6L34.9 100.5L30 102.9L29.3 100.1L29.2 97.1L29.3 94.2L29.6 91.5L30.2 88.9L30.8 86.5L31.4 84.3L32.2 82.3L33.1 80.5L33.9 78.8L34.7 77.3L35.4 75.9L36.2 74.7L37 73.5L37.8 72.4L38.5 71.5L39.2 70.5L39.9 69.6L40.7 68.9L41.5 68.2L42.3 67.5L43 66.9L43.8 66.3L44.5 65.7L45.2 65.2L46 64.7L46.8 64.3L47.5 63.9L48.3 63.5L49 63.1L49.8 62.7L50.6 62.4L51.3 62L52.1 61.7L53 61.3L53.8 60.9L54.7 60.5L55.7 60.1L56.7 59.7L57.8 59.2L59 58.7L60.3 58.2L61.8 57.5L63.6 56.8L65.6 55.9L67.8 55.2L70.4 54.3L73.4 53.4L76.5 52.9L79.9 52.6L82.4 53.4L84.5 54.8L86.2 56.5L86.7 58.9L86.2 61.6L85.6 64.2L85 66.6L83.6 68.9L82 71.1L80.6 73Z" fill-opacity=".094"/><path d="M76.5 74.7L75 76L73.6 77.2L72.4 78.2L71.2 79.1L70 79.9L68.9 80.5L67.9 81.1L66.9 81.7L66.1 82.2L65.2 82.7L64.4 83.2L63.7 83.6L63 84.1L62.3 84.5L61.6 84.9L60.9 85.3L60.2 85.8L59.5 86.2L58.8 86.6L58.1 87.1L57.3 87.6L56.5 88.1L55.7 88.7L54.7 89.3L53.7 90L52.6 90.7L51.4 91.4L50 92.2L48.5 93.1L46.7 94.1L44.7 95.1L42.2 96.3L39.6 97.4L36.3 98.8L30.7 102.1L29.8 99.6L29.8 96.6L30 93.6L30.4 90.9L31 88.4L31.7 86L32.3 84L33.2 82L34.1 80.2L34.9 78.6L35.6 77.2L36.3 75.9L37.1 74.7L37.8 73.6L38.7 72.6L39.4 71.6L40.1 70.8L40.8 69.9L41.5 69.2L42.3 68.5L43 67.9L43.7 67.3L44.5 66.8L45.2 66.3L45.8 65.8L46.6 65.4L47.3 65L48 64.6L48.7 64.2L49.4 63.8L50.1 63.5L50.8 63.1L51.5 62.8L52.3 62.4L53.1 62.1L53.9 61.8L54.7 61.4L55.6 61L56.6 60.6L57.6 60.1L58.8 59.7L60 59.1L61.4 58.5L63.1 57.8L64.9 57L67.1 56.2L69.5 55.4L72.4 54.5L75.5 54L78.8 53.5L81.4 54.2L83.5 55.5L84.8 57.3L85.2 59.7L84.4 62.4L83.5 64.9L82.5 67.2L81 69.5L79.3 71.4L77.9 73.2Z" fill-opacity=".104"/><path d="M73.7 74.7L72.2 75.8L71 76.8L69.9 77.7L68.8 78.5L67.8 79.1L66.8 79.7L66 80.2L65.2 80.7L64.4 81.2L63.7 81.6L63.1 82L62.4 82.4L61.8 82.7L61.2 83.1L60.6 83.5L60 83.8L59.4 84.2L58.8 84.6L58.2 84.9L57.6 85.3L56.9 85.7L56.3 86.2L55.5 86.7L54.7 87.2L53.9 87.8L52.9 88.4L51.9 89L50.7 89.7L49.4 90.5L47.8 91.4L46 92.5L43.7 93.8L41.1 95.1L37.6 97L31.3 101.4L30.3 99.1L30.4 96L30.7 93.1L31.2 90.4L31.8 87.9L32.6 85.6L33.3 83.6L34.1 81.7L35 80L35.8 78.4L36.6 77.1L37.3 75.8L38 74.7L38.7 73.6L39.5 72.7L40.3 71.8L41 71L41.7 70.2L42.4 69.6L43 68.9L43.7 68.3L44.4 67.8L45.1 67.3L45.8 66.8L46.4 66.4L47.1 66L47.8 65.6L48.4 65.2L49.1 64.9L49.7 64.5L50.4 64.2L51.1 63.9L51.7 63.5L52.5 63.2L53.2 62.9L53.9 62.6L54.7 62.2L55.6 61.9L56.5 61.5L57.4 61.1L58.5 60.6L59.7 60.1L61 59.5L62.5 58.8L64.3 58.1L66.3 57.3L68.7 56.5L71.5 55.6L74.5 55L77.7 54.5L80.4 55L82.4 56.2L83.5 58.1L83.7 60.4L82.6 63.1L81.4 65.6L80.1 67.9L78.4 70L76.6 71.8L75.1 73.3Z" fill-opacity=".116"/><path d="M70.9 74.7L69.5 75.6L68.4 76.5L67.4 77.2L66.5 77.8L65.6 78.4L64.8 78.8L64.1 79.3L63.4 79.7L62.8 80.1L62.2 80.4L61.7 80.8L61.1 81.1L60.6 81.4L60.1 81.7L59.6 82L59.1 82.3L58.6 82.6L58.2 82.9L57.6 83.2L57.1 83.6L56.6 83.9L56 84.3L55.4 84.7L54.7 85.1L54 85.6L53.2 86.1L52.4 86.6L51.4 87.2L50.2 87.9L48.9 88.8L47.2 89.9L45.2 91.2L42.6 92.8L39 95.2L32 100.6L30.8 98.6L31 95.5L31.5 92.5L32 89.9L32.6 87.4L33.5 85.1L34.2 83.2L35 81.4L35.9 79.7L36.8 78.2L37.5 76.9L38.2 75.8L38.9 74.7L39.6 73.7L40.4 72.8L41.2 72L41.9 71.2L42.5 70.5L43.2 69.9L43.8 69.3L44.4 68.7L45.1 68.3L45.8 67.8L46.4 67.4L47 67L47.7 66.6L48.3 66.3L48.9 65.9L49.5 65.5L50.1 65.2L50.7 64.9L51.3 64.6L52 64.3L52.6 64L53.3 63.7L54 63.4L54.7 63.1L55.5 62.7L56.4 62.4L57.3 62L58.3 61.5L59.4 61L60.6 60.5L62 59.9L63.7 59.1L65.6 58.4L67.8 57.6L70.5 56.7L73.4 56L76.6 55.5L79.4 55.8L81.3 56.9L82.2 58.8L82.2 61.1L80.9 63.9L79.3 66.3L77.6 68.5L75.8 70.5L73.9 72.2L72.3 73.5Z" fill-opacity=".131"/><path d="M31.2 101L31.6 94.7L33.1 87.8L36 80.9L40.2 74L45 69.2L50.5 65.8L56.9 63L63.3 60.1L69 57.9L74.3 56.4L78.1 56.4L80.9 58L80.8 61.9L78.2 66L74 70.4L68.5 74.4L62.8 78L57 81.6L51.1 85.3L45.3 89.7L39.5 94.1L35.1 97.7L32.5 100Z" fill-opacity="1"/></g><path d="M21.2 108.3L117 7.2" stroke="#98c2e6" stroke-width="1.0" opacity="0.15"/><text class="t" x="21.2" y="116.5" text-anchor="middle">0</text><text class="t" x="15.9" y="109.9" text-anchor="end">0</text><text class="t" x="40.4" y="116.5" text-anchor="middle">2</text><text class="t" x="15.9" y="89.7" text-anchor="end">2</text><text class="t" x="59.5" y="116.5" text-anchor="middle">4</text><text class="t" x="15.9" y="69.5" text-anchor="end">4</text><text class="t" x="78.7" y="116.5" text-anchor="middle">6</text><text class="t" x="15.9" y="49.2" text-anchor="end">6</text><text class="t" x="97.8" y="116.5" text-anchor="middle">8</text><text class="t" x="15.9" y="29" text-anchor="end">8</text><text class="t" x="117" y="116.5" text-anchor="middle">10</text><text class="t" x="15.9" y="8.8" text-anchor="end">10</text><text class="a" x="69.1" y="126" text-anchor="middle">FAO56 P-M (mm/day)</text><text class="y" transform="translate(9.2,57.8) rotate(-90)" text-anchor="middle">MLR_MR (mm/day)</text><text class="c" x="63.4" y="136.6" text-anchor="middle"><tspan font-weight="bold">(a2)</tspan> MLR_MR</text></g>
<g transform="translate(160,136)"><path d="M25 7.2V108.3M21.2 104.3H117M28.9 7.2V108.3M21.2 100.2H117M32.7 7.2V108.3M21.2 96.2H117M36.5 7.2V108.3M21.2 92.1H117M44.2 7.2V108.3M21.2 84H117M48 7.2V108.3M21.2 80H117M51.9 7.2V108.3M21.2 75.9H117M55.7 7.2V108.3M21.2 71.9H117M63.4 7.2V108.3M21.2 63.8H117M67.2 7.2V108.3M21.2 59.8H117M71 7.2V108.3M21.2 55.7H117M74.8 7.2V108.3M21.2 51.7H117M82.5 7.2V108.3M21.2 43.6H117M86.3 7.2V108.3M21.2 39.6H117M90.2 7.2V108.3M21.2 35.5H117M94 7.2V108.3M21.2 31.5H117M101.7 7.2V108.3M21.2 23.4H117M105.5 7.2V108.3M21.2 19.3H117M109.3 7.2V108.3M21.2 15.3H117M113.2 7.2V108.3M21.2 11.2H117" stroke="#f3f3f3" stroke-width=".5" fill="none"/><path d="M21.2 7.2V108.3M21.2 108.3H117M40.4 7.2V108.3M21.2 88.1H117M59.5 7.2V108.3M21.2 67.9H117M78.7 7.2V108.3M21.2 47.6H117M97.8 7.2V108.3M21.2 27.4H117M117 7.2V108.3M21.2 7.2H117" stroke="#e6e6e6" stroke-width=".5" fill="none"/><path d="M21.2 108.3L117 7.2" stroke="#98c2e6" stroke-width="1.0"/><path d="M30.7 93.4L32.3 93.2L35.1 89.3L38.7 84.2L42.3 78.4L46.4 72.9L51.6 67.3L57.8 63.1L64.2 58.7L69.9 55.1L74.6 52.1L77 50.6L78.4 51.6L77 56.5L74.4 63.1L71.3 68.9L67.1 73.8L61.7 78.3L54.9 82.3L48 85.7L41.1 88.5L33.9 90.6L30 92.2Z" fill="#2270cc"/><g filter="url(#fh)"><path d="M87.1 71.6L86.4 73.4L85.7 75.2L84.4 76.9L83.2 78.4L82 79.8L80.9 81.1L79.8 82.4L78.7 83.6L77.2 84.6L75.9 85.5L74.6 86.3L73.3 87.1L72.1 87.9L70.9 88.7L69.7 89.4L68.4 90L67.1 90.5L65.8 91L64.6 91.6L63.3 92.1L62 92.7L60.6 93.2L59.2 93.7L57.8 94.3L56.2 94.8L54.6 95.4L52.9 96L51.1 96.5L49.1 96.9L47.1 97.4L44.8 97.8L42.3 98.3L39.6 98.7L36.6 99.1L33.3 99.4L30.5 98.8L27.4 98.2L27.2 95L27.1 92L27.7 88.9L29.8 85.3L31.6 82.4L33 79.9L34.3 77.8L35.4 76L36.5 74.4L37.4 72.9L38.3 71.6L39.1 70.3L39.9 69.2L40.8 68.2L41.7 67.3L42.5 66.4L43.3 65.6L44.1 64.8L44.8 64.1L45.5 63.4L46.2 62.7L47 62.1L47.7 61.5L48.4 60.9L49.2 60.4L49.9 59.8L50.6 59.2L51.4 58.6L52.1 58L52.9 57.4L53.8 56.7L54.7 56.1L55.6 55.4L56.6 54.7L57.8 53.9L59 53.1L60.3 52.1L61.8 51.2L63.5 50.2L65.4 49.1L67.6 47.7L70 46.7L72.7 45.6L75.8 44.5L78.7 44.2L82 43.9L84.8 44.5L86.1 46.7L87.4 48.8L88.7 50.9L90 52.9L90.1 55.6L89.9 58.3L89.7 60.7L89.6 63L89.4 65.3L88.6 67.5L87.8 69.6Z" fill-opacity=".200"/><path d="M84.8 71.6L84.1 73.3L83.4 74.9L82.2 76.4L81.1 77.8L80 79.1L79 80.3L78 81.5L76.9 82.6L75.6 83.5L74.4 84.3L73.2 85.1L72.1 85.9L70.9 86.6L69.9 87.3L68.7 88L67.5 88.5L66.4 89L65.2 89.5L64 90L62.8 90.6L61.6 91.1L60.4 91.6L59.1 92.1L57.8 92.6L56.3 93.1L54.8 93.7L53.2 94.3L51.5 94.8L49.7 95.2L47.8 95.7L45.6 96.2L43.2 96.7L40.6 97.2L37.7 97.7L34.5 98.1L31.6 97.7L28.3 97.4L27.8 94.6L28.2 91.3L29.1 88.1L31.1 84.7L32.8 81.9L34.2 79.5L35.4 77.5L36.5 75.8L37.5 74.2L38.5 72.8L39.3 71.6L40.1 70.4L40.9 69.3L41.7 68.4L42.6 67.5L43.4 66.7L44.1 65.9L44.9 65.2L45.5 64.5L46.2 63.8L46.9 63.2L47.6 62.6L48.3 62.1L49 61.5L49.6 61L50.3 60.5L51 59.9L51.7 59.4L52.5 58.8L53.2 58.2L54 57.6L54.9 57L55.8 56.4L56.7 55.7L57.8 55L58.9 54.2L60.2 53.3L61.6 52.4L63.1 51.5L64.9 50.4L67.1 49.1L69.3 48.1L72 47L75 45.7L78 45.2L81.3 44.7L84 45.4L85.2 47.5L86.2 49.7L87.2 51.9L88.2 54L88.1 56.6L87.8 59.1L87.6 61.4L87.3 63.6L87.1 65.7L86.4 67.8L85.6 69.7Z" fill-opacity=".079"/><path d="M82.5 71.6L81.8 73.1L81.1 74.6L80.1 76L79 77.3L78 78.4L77.1 79.6L76.1 80.6L75.1 81.6L74 82.4L72.9 83.2L71.8 83.9L70.8 84.6L69.8 85.3L68.8 85.9L67.8 86.5L66.7 87L65.6 87.5L64.6 88L63.5 88.5L62.4 89L61.3 89.5L60.2 90L59 90.4L57.8 90.9L56.5 91.4L55.1 92L53.6 92.5L52 93.1L50.3 93.5L48.5 94L46.4 94.5L44.2 95.1L41.7 95.6L38.8 96.2L35.7 96.7L32.7 96.6L29.3 96.5L28.4 94.1L29.3 90.6L30.5 87.3L32.4 84.1L34 81.4L35.4 79.2L36.6 77.2L37.6 75.6L38.6 74.1L39.5 72.8L40.4 71.6L41.1 70.5L41.9 69.5L42.7 68.6L43.5 67.7L44.2 67L44.9 66.2L45.6 65.6L46.2 64.9L46.9 64.3L47.5 63.7L48.2 63.2L48.8 62.6L49.5 62.1L50.1 61.6L50.8 61.1L51.4 60.6L52.1 60.1L52.8 59.6L53.5 59L54.2 58.5L55 57.9L55.9 57.3L56.8 56.7L57.8 56L58.8 55.3L60 54.4L61.3 53.6L62.8 52.7L64.5 51.6L66.5 50.4L68.7 49.4L71.2 48.3L74.2 47L77.3 46.1L80.7 45.4L83.1 46.2L84.3 48.3L85 50.7L85.7 52.9L86.3 55L86.1 57.6L85.8 59.9L85.4 62.2L85.1 64.2L84.8 66.2L84.1 68.1L83.3 69.9Z" fill-opacity=".086"/><path d="M80.2 71.6L79.5 73L78.9 74.3L77.9 75.6L76.9 76.7L76 77.8L75.1 78.8L74.3 79.7L73.4 80.6L72.3 81.3L71.4 82L70.4 82.7L69.5 83.3L68.6 83.9L67.7 84.5L66.8 85.1L65.8 85.6L64.9 86L63.9 86.5L63 86.9L62 87.4L61 87.8L60 88.3L58.9 88.7L57.8 89.2L56.6 89.7L55.3 90.2L53.9 90.8L52.5 91.3L50.9 91.8L49.2 92.3L47.2 92.9L45.1 93.5L42.7 94.1L40 94.7L36.9 95.4L33.8 95.5L30.3 95.7L28.9 93.7L30.4 89.8L31.8 86.5L33.7 83.4L35.3 80.9L36.6 78.8L37.8 76.9L38.8 75.3L39.7 73.9L40.6 72.7L41.4 71.6L42.1 70.5L42.9 69.6L43.6 68.7L44.4 68L45.1 67.3L45.7 66.6L46.4 65.9L47 65.3L47.5 64.7L48.1 64.2L48.8 63.7L49.4 63.2L50 62.7L50.6 62.3L51.2 61.8L51.8 61.3L52.5 60.8L53.1 60.3L53.8 59.8L54.5 59.3L55.2 58.8L56 58.3L56.8 57.7L57.8 57L58.7 56.3L59.9 55.6L61.1 54.8L62.5 53.9L64.1 52.9L65.9 51.8L68 50.8L70.4 49.6L73.4 48.2L76.6 47.1L80 46.2L82.3 47L83.3 49.1L83.8 51.6L84.2 53.9L84.5 56.1L84.2 58.5L83.8 60.8L83.3 62.9L82.9 64.8L82.5 66.6L81.8 68.4L81 70Z" fill-opacity=".094"/><path d="M77.9 71.6L77.2 72.8L76.6 74L75.7 75.1L74.9 76.1L74 77.1L73.2 78L72.4 78.8L71.6 79.6L70.7 80.2L69.8 80.8L69 81.4L68.2 82L67.4 82.6L66.6 83.1L65.8 83.7L65 84.1L64.1 84.5L63.3 84.9L62.4 85.3L61.6 85.8L60.7 86.2L59.7 86.7L58.8 87.1L57.8 87.5L56.7 88L55.5 88.5L54.3 89.1L52.9 89.6L51.5 90.1L49.9 90.6L48.1 91.2L46 91.9L43.7 92.5L41.1 93.3L38 94L35 94.3L31.2 94.8L29.5 93.2L31.5 89.1L33.2 85.7L35 82.8L36.5 80.4L37.7 78.4L38.9 76.6L39.9 75.1L40.8 73.8L41.6 72.6L42.4 71.6L43.2 70.6L43.8 69.7L44.5 68.9L45.3 68.2L45.9 67.5L46.5 66.9L47.1 66.3L47.7 65.7L48.2 65.2L48.7 64.6L49.3 64.2L49.9 63.7L50.5 63.3L51.1 62.9L51.7 62.5L52.2 62L52.8 61.6L53.4 61.1L54.1 60.7L54.7 60.2L55.4 59.7L56.1 59.2L56.9 58.7L57.8 58.1L58.7 57.4L59.7 56.7L60.8 56L62.1 55.2L63.6 54.2L65.4 53.1L67.3 52.1L69.7 50.9L72.5 49.4L75.8 48L79.4 46.9L81.5 47.8L82.4 49.9L82.6 52.5L82.7 54.9L82.7 57.2L82.2 59.5L81.7 61.6L81.2 63.6L80.7 65.4L80.2 67.1L79.5 68.7L78.7 70.2Z" fill-opacity=".104"/><path d="M75.7 71.6L75 72.7L74.3 73.7L73.5 74.7L72.8 75.6L72.1 76.4L71.3 77.2L70.6 77.9L69.9 78.5L69.1 79.1L68.3 79.7L67.6 80.2L66.9 80.7L66.2 81.2L65.6 81.8L64.9 82.2L64.2 82.6L63.4 83L62.7 83.4L61.9 83.8L61.1 84.2L60.3 84.6L59.5 85L58.7 85.4L57.8 85.9L56.8 86.3L55.7 86.8L54.6 87.4L53.4 87.8L52.1 88.4L50.6 88.9L48.9 89.6L46.9 90.3L44.8 91L42.2 91.8L39.2 92.7L36.1 93.2L32.2 94L30.1 92.8L32.6 88.3L34.6 84.9L36.3 82.1L37.7 79.9L38.9 78L40.1 76.3L41 74.9L41.9 73.6L42.7 72.5L43.4 71.6L44.2 70.7L44.8 69.9L45.5 69.1L46.1 68.4L46.7 67.8L47.3 67.2L47.9 66.7L48.4 66.1L48.9 65.6L49.4 65.1L49.9 64.7L50.5 64.3L51 63.9L51.6 63.5L52.1 63.1L52.6 62.7L53.2 62.3L53.8 61.9L54.3 61.5L54.9 61.1L55.6 60.6L56.2 60.1L57 59.6L57.8 59.1L58.6 58.5L59.6 57.9L60.6 57.2L61.8 56.4L63.2 55.5L64.8 54.5L66.7 53.4L68.9 52.2L71.7 50.7L75.1 48.9L78.7 47.7L80.6 48.7L81.5 50.8L81.4 53.4L81.2 55.9L80.9 58.2L80.3 60.4L79.7 62.5L79 64.3L78.4 66L77.9 67.5L77.3 69L76.4 70.3Z" fill-opacity=".116"/><path d="M73.4 71.6L72.7 72.5L72 73.4L71.3 74.3L70.7 75L70.1 75.7L69.4 76.4L68.7 77L68.1 77.5L67.5 78L66.8 78.5L66.2 79L65.6 79.5L65.1 79.9L64.5 80.4L63.9 80.8L63.3 81.2L62.7 81.5L62 81.9L61.4 82.2L60.7 82.6L60 83L59.3 83.4L58.6 83.7L57.8 84.2L56.9 84.6L56 85.1L55 85.6L53.9 86.1L52.6 86.6L51.3 87.2L49.7 87.9L47.8 88.7L45.8 89.5L43.4 90.3L40.4 91.4L37.2 92.1L33.2 93.1L30.7 92.3L33.7 87.6L36 84.1L37.6 81.5L38.9 79.3L40.1 77.6L41.2 76L42.1 74.7L43 73.5L43.7 72.5L44.4 71.6L45.2 70.7L45.8 70L46.4 69.3L47 68.7L47.6 68.1L48.1 67.6L48.6 67L49.1 66.6L49.5 66.1L50 65.6L50.5 65.2L51 64.9L51.6 64.5L52.1 64.1L52.6 63.8L53.1 63.4L53.6 63.1L54.1 62.7L54.6 62.3L55.2 61.9L55.8 61.5L56.4 61.1L57 60.6L57.8 60.1L58.5 59.6L59.4 59L60.4 58.4L61.5 57.7L62.8 56.8L64.3 55.8L66 54.8L68.2 53.5L70.9 51.9L74.4 49.9L78 48.4L79.8 49.5L80.5 51.6L80.1 54.4L79.7 56.9L79 59.3L78.3 61.4L77.7 63.3L76.9 65.1L76.2 66.6L75.6 68L75 69.3L74.2 70.5Z" fill-opacity=".131"/><path d="M29.7 94.8L31 92.4L33.8 88.4L37.4 83.3L41 77.5L45.2 71.9L50.6 66.1L56.9 61.8L63.4 57.4L69.1 53.8L73.8 50.7L77.1 49L79.9 51L78.5 56.9L75.8 63.8L72.6 69.8L68.2 75L62.7 79.6L55.7 83.7L48.6 87.2L41.6 90L34.4 92.1L30.9 93.6Z" fill-opacity="1"/></g><path d="M21.2 108.3L117 7.2" stroke="#98c2e6" stroke-width="1.0" opacity="0.15"/><text class="t" x="21.2" y="116.5" text-anchor="middle">0</text><text class="t" x="15.9" y="109.9" text-anchor="end">0</text><text class="t" x="40.4" y="116.5" text-anchor="middle">2</text><text class="t" x="15.9" y="89.7" text-anchor="end">2</text><text class="t" x="59.5" y="116.5" text-anchor="middle">4</text><text class="t" x="15.9" y="69.5" text-anchor="end">4</text><text class="t" x="78.7" y="116.5" text-anchor="middle">6</text><text class="t" x="15.9" y="49.2" text-anchor="end">6</text><text class="t" x="97.8" y="116.5" text-anchor="middle">8</text><text class="t" x="15.9" y="29" text-anchor="end">8</text><text class="t" x="117" y="116.5" text-anchor="middle">10</text><text class="t" x="15.9" y="8.8" text-anchor="end">10</text><text class="a" x="69.1" y="126" text-anchor="middle">FAO56 P-M (mm/day)</text><text class="y" transform="translate(9.2,57.8) rotate(-90)" text-anchor="middle">PR2_MR (mm/day)</text><text class="c" x="63.4" y="136.6" text-anchor="middle"><tspan font-weight="bold">(b2)</tspan> PR2_MR</text></g>
<g transform="translate(320,136)"><path d="M25 7.2V108.3M21.2 104.3H117M28.9 7.2V108.3M21.2 100.2H117M32.7 7.2V108.3M21.2 96.2H117M36.5 7.2V108.3M21.2 92.1H117M44.2 7.2V108.3M21.2 84H117M48 7.2V108.3M21.2 80H117M51.9 7.2V108.3M21.2 75.9H117M55.7 7.2V108.3M21.2 71.9H117M63.4 7.2V108.3M21.2 63.8H117M67.2 7.2V108.3M21.2 59.8H117M71 7.2V108.3M21.2 55.7H117M74.8 7.2V108.3M21.2 51.7H117M82.5 7.2V108.3M21.2 43.6H117M86.3 7.2V108.3M21.2 39.6H117M90.2 7.2V108.3M21.2 35.5H117M94 7.2V108.3M21.2 31.5H117M101.7 7.2V108.3M21.2 23.4H117M105.5 7.2V108.3M21.2 19.3H117M109.3 7.2V108.3M21.2 15.3H117M113.2 7.2V108.3M21.2 11.2H117" stroke="#f3f3f3" stroke-width=".5" fill="none"/><path d="M21.2 7.2V108.3M21.2 108.3H117M40.4 7.2V108.3M21.2 88.1H117M59.5 7.2V108.3M21.2 67.9H117M78.7 7.2V108.3M21.2 47.6H117M97.8 7.2V108.3M21.2 27.4H117M117 7.2V108.3M21.2 7.2H117" stroke="#e6e6e6" stroke-width=".5" fill="none"/><path d="M21.2 108.3L117 7.2" stroke="#98c2e6" stroke-width="1.0"/><path d="M29.6 92.9L31.3 90.3L34.5 86.3L38.2 81.2L42.4 75.5L47.3 69.7L52.8 64.7L58.5 60.3L64.2 56L69.9 52.3L74.8 49.2L78.1 47.7L80.5 49.5L79.2 55.2L76.4 62L72.5 67.9L67.5 73.2L61.2 78L54.2 82.1L47.1 85.6L40.1 88.4L33.6 90.6L29.8 92.1Z" fill="#2270cc"/><g filter="url(#fh)"><path d="M87.5 70L86.6 71.9L85.8 73.7L84.8 75.4L83.4 76.9L82.1 78.3L80.9 79.6L79.7 80.8L78.6 82L77.4 83L76 83.9L74.7 84.7L73.4 85.5L72.1 86.2L70.9 87L69.8 87.7L68.5 88.4L67.3 88.9L66 89.5L64.7 90L63.4 90.5L62.1 91.1L60.8 91.6L59.4 92.2L57.9 92.6L56.4 93L54.9 93.5L53.2 93.9L51.4 94.4L49.5 94.9L47.5 95.4L45.2 95.9L42.7 96.4L40 96.9L37 97.3L33.6 97.8L30.5 97.5L27.5 96.7L27.2 93.7L27.1 90.7L27.6 87.6L29.8 83.9L31.5 81L33.3 78.4L34.8 76.2L36.1 74.4L37.3 72.8L38.3 71.3L39.2 70L40 68.9L40.8 67.8L41.5 66.8L42.4 65.9L43.3 65.1L44.1 64.3L44.9 63.6L45.6 62.9L46.4 62.3L47.1 61.7L47.7 61.1L48.4 60.5L49.1 60L49.8 59.5L50.6 59L51.3 58.5L52 58L52.7 57.5L53.5 56.9L54.3 56.4L55.1 55.8L56 55.2L56.9 54.5L57.9 53.8L59.1 53L60.3 52.2L61.7 51.2L63.3 50.1L65.1 49.1L67.2 47.8L69.7 46.3L72.4 45L75.6 43.7L78.7 43L81.7 43L85 43L86.6 44.9L87.9 47L89.3 49.1L90.6 51.2L90.8 53.9L90.6 56.5L90.4 59L90.3 61.4L90.1 63.6L89.3 65.9L88.3 68.1Z" fill-opacity=".200"/><path d="M85.3 70L84.5 71.8L83.7 73.4L82.8 75L81.5 76.3L80.3 77.6L79.1 78.8L78 80L77 81L75.8 82L74.6 82.8L73.4 83.6L72.2 84.3L71.1 85L69.9 85.7L68.9 86.4L67.7 87L66.6 87.5L65.4 88L64.2 88.5L63 89L61.8 89.6L60.6 90.1L59.3 90.7L57.9 91.1L56.5 91.5L55.1 91.9L53.5 92.4L51.8 92.9L50 93.4L48.1 93.9L45.9 94.5L43.5 95.1L40.9 95.6L38 96.1L34.6 96.7L31.4 96.6L28.1 96.2L27.4 93.5L27.7 90.3L28.6 87L30.7 83.5L32.5 80.6L34.3 78.1L35.7 76L37 74.2L38.1 72.7L39.1 71.3L40 70L40.8 68.9L41.5 67.9L42.3 66.9L43.1 66.1L44 65.3L44.8 64.6L45.5 63.9L46.2 63.3L46.9 62.7L47.6 62.1L48.2 61.5L48.9 61L49.5 60.5L50.2 60L50.9 59.5L51.6 59L52.3 58.5L53 58L53.7 57.5L54.5 57L55.2 56.4L56.1 55.8L57 55.2L57.9 54.5L59 53.8L60.2 52.9L61.5 52L63.1 50.9L64.8 49.9L66.8 48.7L69.2 47.2L71.9 45.9L75 44.5L78.2 43.6L81.3 43.5L84.4 43.6L85.9 45.5L87 47.7L88.1 49.9L89.1 52.1L89.1 54.7L88.8 57.3L88.5 59.7L88.3 61.9L88 64.1L87.1 66.2L86.2 68.2Z" fill-opacity=".079"/><path d="M83.2 70L82.4 71.6L81.6 73.2L80.7 74.6L79.5 75.8L78.4 77L77.4 78.1L76.4 79.1L75.4 80.1L74.3 81L73.2 81.7L72 82.4L71 83.1L70 83.7L68.9 84.4L68 85L66.9 85.6L65.9 86.1L64.8 86.6L63.7 87.1L62.6 87.6L61.5 88.1L60.4 88.6L59.2 89.1L57.9 89.5L56.6 89.9L55.3 90.4L53.8 90.9L52.2 91.4L50.5 91.9L48.7 92.4L46.6 93L44.3 93.7L41.7 94.3L38.9 94.9L35.6 95.5L32.3 95.7L28.7 95.7L27.7 93.3L28.3 89.9L29.6 86.4L31.7 83L33.5 80.2L35.2 77.8L36.6 75.8L37.9 74L39 72.5L40 71.2L40.8 70L41.6 69L42.3 68L43 67.1L43.9 66.3L44.7 65.5L45.4 64.9L46.1 64.2L46.8 63.6L47.5 63L48.1 62.5L48.7 61.9L49.3 61.4L50 60.9L50.6 60.5L51.2 60L51.9 59.6L52.5 59.1L53.2 58.6L53.9 58.1L54.6 57.6L55.4 57.1L56.2 56.5L57 55.9L57.9 55.2L59 54.5L60.1 53.7L61.4 52.8L62.8 51.8L64.5 50.7L66.5 49.5L68.8 48.1L71.4 46.8L74.5 45.2L77.8 44.2L80.8 43.9L83.7 44.3L85.3 46.1L86.1 48.4L86.9 50.7L87.6 52.9L87.4 55.5L87.1 58L86.7 60.3L86.3 62.5L85.9 64.5L85 66.5L84.1 68.3Z" fill-opacity=".086"/><path d="M81.1 70L80.3 71.5L79.5 72.9L78.6 74.2L77.6 75.3L76.6 76.4L75.6 77.4L74.7 78.3L73.7 79.2L72.8 79.9L71.7 80.6L70.7 81.3L69.8 81.9L68.9 82.5L68 83.1L67 83.7L66.1 84.2L65.2 84.7L64.2 85.2L63.2 85.6L62.2 86.1L61.2 86.5L60.2 87L59.1 87.5L57.9 88L56.7 88.4L55.5 88.9L54.1 89.4L52.6 89.9L51 90.4L49.3 91L47.3 91.6L45.1 92.3L42.6 93L39.8 93.6L36.6 94.4L33.2 94.8L29.3 95.1L27.9 93.1L28.9 89.5L30.6 85.9L32.7 82.5L34.5 79.8L36.1 77.4L37.5 75.5L38.8 73.9L39.8 72.4L40.8 71.2L41.6 70L42.4 69L43.1 68.1L43.8 67.2L44.6 66.5L45.4 65.8L46.1 65.1L46.8 64.5L47.4 64L48 63.4L48.6 62.9L49.2 62.4L49.8 61.9L50.4 61.4L51 61L51.6 60.5L52.2 60.1L52.8 59.6L53.4 59.2L54.1 58.7L54.8 58.2L55.5 57.7L56.3 57.2L57.1 56.6L57.9 55.9L58.9 55.2L60 54.5L61.2 53.6L62.6 52.6L64.2 51.5L66.1 50.4L68.3 49L70.9 47.6L74 46L77.3 44.8L80.4 44.4L83 45L84.6 46.6L85.2 49.2L85.7 51.5L86.1 53.8L85.8 56.3L85.3 58.7L84.8 60.9L84.2 63L83.7 64.9L82.9 66.8L82 68.5Z" fill-opacity=".094"/><path d="M79 70L78.2 71.4L77.4 72.6L76.6 73.7L75.6 74.8L74.7 75.7L73.8 76.6L73 77.4L72.1 78.2L71.2 78.9L70.3 79.5L69.4 80.1L68.6 80.7L67.8 81.2L67 81.8L66.1 82.3L65.3 82.8L64.5 83.3L63.6 83.7L62.7 84.2L61.8 84.6L60.9 85L60 85.5L59 86L57.9 86.4L56.8 86.9L55.7 87.3L54.4 87.9L53 88.4L51.5 88.9L49.9 89.5L48 90.2L45.9 91L43.5 91.7L40.8 92.4L37.5 93.3L34.1 93.9L29.9 94.6L28.2 92.9L29.4 89.1L31.5 85.3L33.7 82L35.5 79.3L37.1 77.1L38.4 75.3L39.6 73.7L40.7 72.3L41.6 71.1L42.5 70L43.2 69.1L43.9 68.2L44.6 67.4L45.3 66.7L46.1 66L46.8 65.4L47.4 64.8L48 64.3L48.6 63.8L49.1 63.3L49.7 62.8L50.2 62.3L50.8 61.9L51.4 61.5L51.9 61L52.5 60.6L53.1 60.2L53.7 59.8L54.3 59.3L54.9 58.8L55.6 58.3L56.3 57.8L57.1 57.3L57.9 56.6L58.9 56L59.9 55.2L61.1 54.4L62.4 53.4L64 52.3L65.7 51.2L67.9 49.9L70.4 48.5L73.5 46.8L76.8 45.4L80 44.9L82.4 45.6L84 47.2L84.2 49.9L84.5 52.3L84.6 54.7L84.1 57.1L83.6 59.4L83 61.6L82.2 63.5L81.6 65.3L80.8 67L79.9 68.6Z" fill-opacity=".104"/><path d="M76.9 70L76 71.2L75.3 72.3L74.5 73.3L73.6 74.2L72.8 75.1L72.1 75.9L71.3 76.6L70.5 77.3L69.7 77.9L68.9 78.5L68.1 79L67.4 79.5L66.7 80L66 80.5L65.2 81L64.5 81.4L63.8 81.9L63 82.3L62.2 82.7L61.4 83.1L60.6 83.5L59.8 84L58.9 84.4L57.9 84.9L56.9 85.3L55.9 85.8L54.7 86.3L53.4 86.9L52 87.4L50.5 88.1L48.7 88.8L46.7 89.6L44.4 90.4L41.7 91.2L38.5 92.2L35 93L30.5 94.1L28.4 92.7L30 88.7L32.5 84.7L34.7 81.5L36.5 78.9L38 76.8L39.3 75L40.5 73.5L41.6 72.2L42.5 71.1L43.3 70L44 69.1L44.7 68.3L45.4 67.5L46.1 66.9L46.8 66.3L47.4 65.7L48 65.1L48.6 64.6L49.1 64.1L49.6 63.7L50.2 63.2L50.7 62.8L51.2 62.3L51.7 61.9L52.3 61.5L52.8 61.1L53.4 60.7L53.9 60.3L54.5 59.9L55.1 59.4L55.7 59L56.4 58.5L57.2 57.9L57.9 57.4L58.8 56.7L59.8 56L60.9 55.2L62.2 54.2L63.7 53.2L65.4 52.1L67.4 50.8L69.9 49.4L72.9 47.6L76.4 46L79.6 45.4L81.7 46.3L83.3 47.8L83.3 50.6L83.3 53.1L83.1 55.5L82.4 58L81.8 60.2L81.1 62.2L80.2 64.1L79.5 65.8L78.7 67.3L77.8 68.7Z" fill-opacity=".116"/><path d="M74.8 70L73.9 71.1L73.2 72L72.4 72.9L71.7 73.7L71 74.5L70.3 75.2L69.6 75.8L68.9 76.3L68.2 76.9L67.5 77.4L66.8 77.8L66.2 78.3L65.6 78.7L65 79.2L64.3 79.6L63.7 80.1L63.1 80.5L62.4 80.9L61.8 81.2L61.1 81.6L60.3 82L59.6 82.4L58.8 82.9L57.9 83.3L57 83.8L56.1 84.3L55 84.8L53.8 85.4L52.5 86L51.1 86.6L49.4 87.3L47.5 88.2L45.2 89.1L42.7 90L39.5 91.1L35.9 92.1L31.1 93.6L28.7 92.5L30.6 88.3L33.5 84.1L35.7 81L37.5 78.5L39 76.5L40.2 74.8L41.4 73.3L42.4 72.1L43.3 71L44.1 70L44.8 69.2L45.5 68.4L46.2 67.7L46.8 67.1L47.5 66.5L48.1 66L48.6 65.4L49.2 65L49.7 64.5L50.2 64.1L50.6 63.6L51.1 63.2L51.6 62.8L52.1 62.4L52.6 62.1L53.1 61.7L53.6 61.3L54.2 60.9L54.7 60.5L55.3 60.1L55.9 59.6L56.5 59.1L57.2 58.6L57.9 58.1L58.8 57.4L59.7 56.7L60.7 56L62 55L63.4 54L65 52.9L67 51.7L69.4 50.2L72.4 48.4L75.9 46.6L79.1 45.9L81 47L82.7 48.4L82.4 51.3L82.1 53.9L81.6 56.4L80.8 58.8L80 60.9L79.2 62.8L78.2 64.6L77.4 66.2L76.5 67.6L75.7 68.9Z" fill-opacity=".131"/><path d="M28.4 94L29.9 89.6L33.3 85.3L36.9 80.3L41.2 74.5L46.1 68.6L51.8 63.5L57.5 59.1L63.3 54.7L69 51L74 47.8L78.3 46.1L82 48.9L80.7 55.7L77.8 62.8L73.7 68.9L68.6 74.4L62.1 79.3L54.9 83.5L47.8 87.1L40.6 89.9L34.2 92.1L30.2 93.6Z" fill-opacity="1"/></g><path d="M21.2 108.3L117 7.2" stroke="#98c2e6" stroke-width="1.0" opacity="0.15"/><text class="t" x="21.2" y="116.5" text-anchor="middle">0</text><text class="t" x="15.9" y="109.9" text-anchor="end">0</text><text class="t" x="40.4" y="116.5" text-anchor="middle">2</text><text class="t" x="15.9" y="89.7" text-anchor="end">2</text><text class="t" x="59.5" y="116.5" text-anchor="middle">4</text><text class="t" x="15.9" y="69.5" text-anchor="end">4</text><text class="t" x="78.7" y="116.5" text-anchor="middle">6</text><text class="t" x="15.9" y="49.2" text-anchor="end">6</text><text class="t" x="97.8" y="116.5" text-anchor="middle">8</text><text class="t" x="15.9" y="29" text-anchor="end">8</text><text class="t" x="117" y="116.5" text-anchor="middle">10</text><text class="t" x="15.9" y="8.8" text-anchor="end">10</text><text class="a" x="69.1" y="126" text-anchor="middle">FAO56 P-M (mm/day)</text><text class="y" transform="translate(9.2,57.8) rotate(-90)" text-anchor="middle">PR3_MR (mm/day)</text><text class="c" x="63.4" y="136.6" text-anchor="middle"><tspan font-weight="bold">(c2)</tspan> PR3_MR</text></g>
<g transform="translate(0,271.5)"><path d="M25 7.2V108.3M21.2 104.3H117M28.9 7.2V108.3M21.2 100.2H117M32.7 7.2V108.3M21.2 96.2H117M36.5 7.2V108.3M21.2 92.1H117M44.2 7.2V108.3M21.2 84H117M48 7.2V108.3M21.2 80H117M51.9 7.2V108.3M21.2 75.9H117M55.7 7.2V108.3M21.2 71.9H117M63.4 7.2V108.3M21.2 63.8H117M67.2 7.2V108.3M21.2 59.8H117M71 7.2V108.3M21.2 55.7H117M74.8 7.2V108.3M21.2 51.7H117M82.5 7.2V108.3M21.2 43.6H117M86.3 7.2V108.3M21.2 39.6H117M90.2 7.2V108.3M21.2 35.5H117M94 7.2V108.3M21.2 31.5H117M101.7 7.2V108.3M21.2 23.4H117M105.5 7.2V108.3M21.2 19.3H117M109.3 7.2V108.3M21.2 15.3H117M113.2 7.2V108.3M21.2 11.2H117" stroke="#f3f3f3" stroke-width=".5" fill="none"/><path d="M21.2 7.2V108.3M21.2 108.3H117M40.4 7.2V108.3M21.2 88.1H117M59.5 7.2V108.3M21.2 67.9H117M78.7 7.2V108.3M21.2 47.6H117M97.8 7.2V108.3M21.2 27.4H117M117 7.2V108.3M21.2 7.2H117" stroke="#e6e6e6" stroke-width=".5" fill="none"/><path d="M21.2 108.3L117 7.2" stroke="#98c2e6" stroke-width="1.0"/><path d="M33.1 97.7L32.9 94.7L33.2 88.2L34.6 82.4L37.2 77.9L41 73.9L45.5 71L51 68.5L56.8 66L62.6 63.4L68.4 60.8L73.9 58.3L78.1 57L80.3 56.9L81.4 57.8L79.8 60.3L77 64.7L73 68.7L67.4 73.1L61.9 76.9L54.8 80.9L47.5 85.1L41.5 89.3L36.1 93.6L33 96.9Z" fill="#2270cc"/><g filter="url(#fh)"><path d="M85.9 74.6L84 76.6L81.8 78.3L79.9 79.7L78.1 81L76.6 82.2L75 83.2L73.5 84.1L72.1 84.9L70.9 85.7L69.7 86.4L68.5 87.1L67.4 87.7L66.4 88.3L65.3 88.9L64.3 89.5L63.3 90.1L62.3 90.6L61.2 91.2L60.2 91.8L59.2 92.6L58.1 93.3L56.9 94.2L55.7 95.1L54.4 96L52.9 97.1L51.2 98.4L49.4 99.8L47.2 101.5L44.7 103.2L41.8 105L38.4 107L35.6 107.2L32.5 107.4L30.2 106.2L28.8 103.7L28.1 100.9L27.4 98.3L27 95.6L27 92.9L27 90.4L27 88.1L27.1 85.9L27.7 83.7L28.3 81.6L28.8 79.7L29.3 77.9L30.4 76.2L31.4 74.6L32.3 73.2L33.2 71.9L34.2 70.6L35.5 69.6L36.8 68.7L37.9 67.8L39 67.1L40 66.3L41 65.7L41.9 65.1L42.9 64.6L43.8 64.1L44.7 63.6L45.5 63.1L46.3 62.6L47.2 62.1L48 61.7L48.9 61.4L49.7 61L50.6 60.6L51.5 60.3L52.4 59.9L53.4 59.5L54.4 59.1L55.4 58.7L56.5 58.3L57.7 57.7L59.1 57L60.6 56.3L62.3 55.4L64.3 54.5L66.7 53.3L69.5 52L72.9 50.5L76.3 49.7L80.1 48.9L83.4 49.2L87.1 49.6L89.3 51.3L90.7 53.7L92.1 56.1L93.1 58.6L92.4 61.7L91.7 64.6L91.2 67.3L89.4 70L87.6 72.5Z" fill-opacity=".200"/><path d="M83.4 74.6L81.5 76.4L79.5 78L77.7 79.3L76.2 80.5L74.7 81.6L73.2 82.5L71.9 83.3L70.6 84L69.5 84.7L68.4 85.4L67.3 86L66.3 86.6L65.3 87.2L64.4 87.7L63.4 88.2L62.5 88.8L61.6 89.3L60.7 89.8L59.7 90.4L58.8 91L57.8 91.7L56.7 92.5L55.6 93.3L54.4 94.2L53 95.1L51.5 96.3L49.8 97.6L47.8 99.1L45.5 100.6L42.9 102.3L39.9 104.1L37.2 104.4L34.2 104.8L31.8 104L29.5 103.1L28.7 100.4L28 97.8L27.6 95.2L27.7 92.5L27.7 90.1L27.7 87.8L27.9 85.6L28.5 83.4L29.1 81.4L29.7 79.6L30.2 77.8L31.3 76.2L32.3 74.6L33.3 73.3L34.1 72L35.1 70.8L36.5 69.8L37.7 69L38.8 68.2L39.8 67.4L40.7 66.8L41.7 66.2L42.6 65.6L43.5 65.1L44.4 64.7L45.2 64.2L46 63.7L46.8 63.3L47.6 62.9L48.4 62.5L49.2 62.1L50 61.8L50.8 61.5L51.7 61.1L52.5 60.8L53.4 60.4L54.4 60L55.4 59.6L56.4 59.2L57.6 58.6L58.8 58L60.2 57.3L61.9 56.5L63.7 55.6L65.9 54.6L68.6 53.4L71.8 51.9L75.1 51L78.8 50.2L82.2 50.2L86 50.4L88.2 52L89.5 54.3L90.5 56.8L91.1 59.4L90.2 62.5L89.3 65.3L88.5 67.9L86.8 70.4L85 72.6Z" fill-opacity=".079"/><path d="M80.8 74.6L79.1 76.3L77.2 77.7L75.6 78.9L74.2 79.9L72.8 80.9L71.5 81.7L70.3 82.5L69.1 83.2L68.1 83.8L67.1 84.4L66.1 85L65.2 85.5L64.3 86L63.5 86.5L62.6 87L61.8 87.5L60.9 87.9L60.1 88.4L59.2 88.9L58.3 89.5L57.4 90.1L56.5 90.8L55.5 91.5L54.4 92.3L53.2 93.2L51.8 94.2L50.3 95.3L48.5 96.7L46.4 98L44.1 99.5L41.3 101.1L38.8 101.5L36 102.1L33.4 101.9L30.1 102.4L29.2 99.8L28.5 97.3L28.3 94.7L28.3 92.1L28.3 89.7L28.5 87.4L28.7 85.3L29.3 83.2L29.9 81.2L30.6 79.4L31.2 77.7L32.3 76.1L33.3 74.6L34.2 73.3L35.1 72.1L36.1 71L37.4 70.1L38.5 69.3L39.6 68.5L40.6 67.8L41.5 67.2L42.4 66.6L43.3 66.2L44.2 65.7L45 65.2L45.7 64.8L46.5 64.4L47.3 64L48 63.6L48.7 63.2L49.5 62.9L50.3 62.6L51 62.3L51.8 61.9L52.6 61.6L53.5 61.3L54.4 60.9L55.3 60.5L56.3 60.1L57.4 59.6L58.6 59L59.9 58.4L61.4 57.7L63.2 56.8L65.2 55.8L67.7 54.7L70.7 53.4L73.9 52.4L77.6 51.4L81.1 51.2L84.9 51.2L87.2 52.7L88.4 55L88.9 57.6L89.1 60.3L88 63.2L86.9 65.9L85.8 68.4L84.1 70.7L82.3 72.8Z" fill-opacity=".086"/><path d="M78.2 74.6L76.6 76.1L74.9 77.4L73.5 78.4L72.2 79.4L71 80.3L69.8 81L68.7 81.7L67.6 82.3L66.7 82.9L65.8 83.4L64.9 83.9L64.1 84.4L63.3 84.8L62.5 85.3L61.8 85.7L61 86.1L60.3 86.6L59.5 87L58.7 87.5L57.9 88L57.1 88.5L56.3 89.1L55.4 89.8L54.4 90.4L53.3 91.2L52.1 92.1L50.7 93.1L49.1 94.2L47.3 95.4L45.2 96.7L42.8 98.1L40.5 98.7L37.8 99.5L35.1 99.8L30.7 101.7L29.8 99.2L29.1 96.8L28.9 94.2L28.9 91.6L29 89.3L29.2 87L29.5 84.9L30 82.9L30.8 81L31.5 79.2L32.1 77.6L33.2 76L34.3 74.6L35.2 73.4L36.1 72.2L37.1 71.2L38.3 70.3L39.4 69.6L40.4 68.9L41.3 68.2L42.2 67.6L43.1 67.1L44 66.7L44.8 66.2L45.6 65.8L46.3 65.4L47 65.1L47.7 64.7L48.4 64.3L49.1 64L49.8 63.7L50.5 63.4L51.3 63.1L52 62.8L52.8 62.5L53.5 62.1L54.4 61.8L55.2 61.4L56.2 61L57.2 60.6L58.3 60L59.5 59.4L60.9 58.8L62.6 58L64.5 57.1L66.8 56L69.6 54.8L72.6 53.8L76.3 52.7L80 52.2L83.8 52.1L86.1 53.5L87.2 55.7L87.3 58.4L87 61.1L85.7 64L84.4 66.6L83.2 68.9L81.4 71.1L79.7 73Z" fill-opacity=".094"/><path d="M75.7 74.6L74.2 75.9L72.6 77.1L71.3 78L70.2 78.9L69.1 79.6L68 80.3L67.1 80.9L66.1 81.4L65.3 81.9L64.5 82.4L63.7 82.9L63 83.3L62.3 83.7L61.6 84.1L60.9 84.5L60.3 84.8L59.6 85.2L58.9 85.6L58.2 86L57.5 86.5L56.8 86.9L56.1 87.4L55.2 88L54.4 88.6L53.4 89.2L52.3 90L51.1 90.8L49.8 91.8L48.2 92.8L46.4 93.9L44.2 95.2L42.1 95.9L39.5 96.8L36.7 97.6L31.3 101L30.3 98.7L29.7 96.3L29.5 93.7L29.6 91.2L29.6 88.9L30 86.7L30.3 84.6L30.8 82.6L31.6 80.7L32.3 79L33 77.5L34.2 76L35.2 74.6L36.2 73.5L37 72.4L38.1 71.4L39.3 70.6L40.3 69.9L41.3 69.2L42.1 68.6L43 68.1L43.8 67.6L44.7 67.2L45.4 66.8L46.1 66.4L46.8 66.1L47.5 65.7L48.2 65.4L48.8 65L49.5 64.7L50.1 64.4L50.8 64.2L51.5 63.9L52.2 63.6L52.9 63.3L53.6 63L54.4 62.7L55.2 62.3L56 62L57 61.5L58 61L59.2 60.5L60.5 59.9L62 59.2L63.8 58.3L65.9 57.4L68.5 56.2L71.4 55.2L75 54L78.8 53.2L82.7 52.9L85 54.2L86 56.4L85.7 59.2L85 61.9L83.5 64.7L82 67.2L80.5 69.4L78.8 71.4L77.1 73.2Z" fill-opacity=".104"/><path d="M73.1 74.6L71.7 75.8L70.4 76.8L69.2 77.6L68.2 78.3L67.2 79L66.3 79.6L65.4 80.1L64.6 80.6L63.9 81L63.2 81.4L62.5 81.8L61.9 82.2L61.3 82.5L60.7 82.9L60.1 83.2L59.5 83.5L58.9 83.9L58.3 84.2L57.7 84.5L57.1 84.9L56.5 85.3L55.8 85.8L55.1 86.2L54.4 86.7L53.5 87.3L52.6 87.9L51.6 88.6L50.4 89.4L49.1 90.2L47.5 91.1L45.7 92.2L43.7 93L41.3 94.2L38.4 95.5L31.9 100.3L30.9 98.1L30.2 95.8L30.2 93.2L30.2 90.8L30.3 88.5L30.7 86.3L31.1 84.3L31.6 82.4L32.4 80.5L33.2 78.8L34 77.3L35.1 75.9L36.2 74.6L37.1 73.5L38 72.5L39.1 71.6L40.2 70.8L41.2 70.2L42.1 69.6L42.9 69L43.7 68.5L44.6 68.1L45.3 67.7L46.1 67.4L46.7 67L47.4 66.7L48 66.4L48.6 66.1L49.2 65.8L49.8 65.5L50.5 65.2L51.1 65L51.7 64.7L52.3 64.4L53 64.1L53.7 63.9L54.4 63.6L55.1 63.2L55.9 62.9L56.8 62.5L57.7 62L58.8 61.5L60 61L61.4 60.3L63.1 59.6L65 58.7L67.4 57.6L70.2 56.6L73.7 55.3L77.7 54.2L81.6 53.8L83.9 54.9L84.8 57L84.1 60L83 62.8L81.3 65.5L79.6 67.9L77.9 70L76.1 71.8L74.5 73.3Z" fill-opacity=".116"/><path d="M70.5 74.6L69.3 75.6L68.1 76.4L67.1 77.2L66.2 77.8L65.3 78.4L64.6 78.9L63.8 79.3L63.1 79.7L62.5 80.1L61.9 80.4L61.3 80.8L60.8 81.1L60.3 81.4L59.7 81.7L59.2 81.9L58.7 82.2L58.2 82.5L57.7 82.8L57.2 83.1L56.7 83.4L56.2 83.7L55.6 84.1L55 84.4L54.4 84.8L53.7 85.3L52.9 85.8L52 86.3L51.1 86.9L50 87.6L48.7 88.4L47.2 89.2L45.4 90.2L43.1 91.5L40 93.4L32.5 99.6L31.4 97.6L30.8 95.3L30.8 92.7L30.9 90.3L31 88.2L31.4 86L31.9 84L32.3 82.1L33.3 80.3L34.1 78.7L34.9 77.2L36.1 75.8L37.1 74.6L38.1 73.6L39 72.6L40.1 71.8L41.1 71.1L42.1 70.5L42.9 69.9L43.7 69.4L44.5 68.9L45.3 68.6L46 68.2L46.7 67.9L47.3 67.6L47.9 67.3L48.5 67L49.1 66.8L49.7 66.5L50.2 66.2L50.8 66L51.3 65.8L51.9 65.5L52.5 65.2L53.1 65L53.7 64.7L54.4 64.4L55.1 64.1L55.8 63.8L56.6 63.4L57.5 63L58.5 62.6L59.6 62.1L60.8 61.5L62.3 60.8L64.1 60L66.3 59.1L69 58L72.5 56.5L76.6 55.2L80.5 54.6L82.9 55.6L83.7 57.7L82.5 60.8L81 63.6L79.1 66.2L77.1 68.5L75.2 70.5L73.4 72.1L71.9 73.5Z" fill-opacity=".131"/><path d="M32.7 99.2L31.4 94.9L31.6 87.9L33.1 81.7L35.9 76.9L40 72.7L44.7 69.6L50.4 67.1L56.2 64.5L61.9 61.9L67.7 59.4L73.4 56.8L77.9 55.4L80.9 55.5L82.9 57.5L81.2 61.1L78.2 65.7L74 69.8L68.4 74.4L62.8 78.2L55.6 82.3L48.3 86.4L42.4 90.6L37.2 94.8L34.1 98.1Z" fill-opacity="1"/></g><path d="M21.2 108.3L117 7.2" stroke="#98c2e6" stroke-width="1.0" opacity="0.15"/><text class="t" x="21.2" y="116.5" text-anchor="middle">0</text><text class="t" x="15.9" y="109.9" text-anchor="end">0</text><text class="t" x="40.4" y="116.5" text-anchor="middle">2</text><text class="t" x="15.9" y="89.7" text-anchor="end">2</text><text class="t" x="59.5" y="116.5" text-anchor="middle">4</text><text class="t" x="15.9" y="69.5" text-anchor="end">4</text><text class="t" x="78.7" y="116.5" text-anchor="middle">6</text><text class="t" x="15.9" y="49.2" text-anchor="end">6</text><text class="t" x="97.8" y="116.5" text-anchor="middle">8</text><text class="t" x="15.9" y="29" text-anchor="end">8</text><text class="t" x="117" y="116.5" text-anchor="middle">10</text><text class="t" x="15.9" y="8.8" text-anchor="end">10</text><text class="a" x="69.1" y="126" text-anchor="middle">FAO56 P-M (mm/day)</text><text class="y" transform="translate(9.2,57.8) rotate(-90)" text-anchor="middle">MLR_R (mm/day)</text><text class="c" x="63.4" y="136.6" text-anchor="middle"><tspan font-weight="bold">(a3)</tspan> MLR_R</text></g>
<g transform="translate(160,271.5)"><path d="M25 7.2V108.3M21.2 104.3H117M28.9 7.2V108.3M21.2 100.2H117M32.7 7.2V108.3M21.2 96.2H117M36.5 7.2V108.3M21.2 92.1H117M44.2 7.2V108.3M21.2 84H117M48 7.2V108.3M21.2 80H117M51.9 7.2V108.3M21.2 75.9H117M55.7 7.2V108.3M21.2 71.9H117M63.4 7.2V108.3M21.2 63.8H117M67.2 7.2V108.3M21.2 59.8H117M71 7.2V108.3M21.2 55.7H117M74.8 7.2V108.3M21.2 51.7H117M82.5 7.2V108.3M21.2 43.6H117M86.3 7.2V108.3M21.2 39.6H117M90.2 7.2V108.3M21.2 35.5H117M94 7.2V108.3M21.2 31.5H117M101.7 7.2V108.3M21.2 23.4H117M105.5 7.2V108.3M21.2 19.3H117M109.3 7.2V108.3M21.2 15.3H117M113.2 7.2V108.3M21.2 11.2H117" stroke="#f3f3f3" stroke-width=".5" fill="none"/><path d="M21.2 7.2V108.3M21.2 108.3H117M40.4 7.2V108.3M21.2 88.1H117M59.5 7.2V108.3M21.2 67.9H117M78.7 7.2V108.3M21.2 47.6H117M97.8 7.2V108.3M21.2 27.4H117M117 7.2V108.3M21.2 7.2H117" stroke="#e6e6e6" stroke-width=".5" fill="none"/><path d="M21.2 108.3L117 7.2" stroke="#98c2e6" stroke-width="1.0"/><path d="M32.4 92.2L31.1 87.7L32.2 82.7L35.2 78.1L39.8 73.1L45.3 69.5L51.7 65.8L58.2 62.2L64.8 58.6L70.6 55L74.7 52.6L78.1 51.1L80.5 52.9L79.2 57.8L76.4 64L73.2 69.2L69 73.7L63.4 77.7L57.1 81.2L50 84.7L42.9 87.5L37 89.7L33.2 91.8Z" fill="#2270cc"/><g filter="url(#fh)"><path d="M87.7 72.1L86.9 74.2L86.1 76.1L84.4 77.8L82.9 79.4L81.5 80.8L80.2 82.2L78.9 83.5L77.3 84.5L75.6 85.4L74 86.1L72.6 86.9L71.2 87.6L69.9 88.2L68.6 88.8L67.2 89.2L65.9 89.6L64.6 90.1L63.4 90.5L62.2 90.9L60.9 91.3L59.7 91.7L58.4 92.1L57.1 92.5L55.8 92.9L54.4 93.4L52.9 93.8L51.4 94.3L49.7 94.9L47.9 95.5L45.9 96.1L43.6 96.9L41.1 97.5L38.6 97.9L35.7 98.3L32.9 98.3L30.3 97.6L28.5 96L28 93.4L27.6 91L27.2 88.7L27.3 86.2L27.7 83.8L28.1 81.5L28.4 79.5L29.5 77.4L30.8 75.4L31.9 73.7L33 72.1L34.8 70.8L36.5 69.6L37.9 68.6L39.2 67.7L40.3 66.9L41.4 66.2L42.5 65.6L43.4 65L44.3 64.5L45.2 64L45.9 63.5L46.7 63L47.4 62.6L48.2 62.2L48.9 61.8L49.6 61.5L50.4 61.1L51.1 60.7L51.8 60.4L52.5 60L53.3 59.6L54.1 59.2L54.9 58.8L55.8 58.4L56.7 57.9L57.8 57.3L58.9 56.6L60.2 55.8L61.6 54.9L63.3 53.9L65.5 52.4L68.3 50.5L71.7 48.3L75.3 46.8L79.1 45.5L82.7 45.2L86.3 45.4L87.6 47.7L88.8 50L90.1 52.3L90.9 54.8L90.7 57.7L90.5 60.3L90.3 62.9L90.2 65.3L89.4 67.7L88.5 70Z" fill-opacity=".200"/><path d="M85.5 72.1L84.7 74L83.9 75.8L82.3 77.4L80.9 78.9L79.6 80.2L78.3 81.5L77.1 82.6L75.6 83.6L74.1 84.4L72.7 85.1L71.4 85.8L70.1 86.4L68.9 87L67.6 87.6L66.4 88L65.2 88.4L64 88.8L62.9 89.2L61.7 89.6L60.6 90L59.4 90.4L58.3 90.8L57 91.2L55.8 91.6L54.5 92L53.1 92.5L51.6 93L50.1 93.5L48.3 94.1L46.4 94.7L44.3 95.5L41.9 96.1L39.5 96.5L36.7 97L33.8 97.2L31.1 96.9L29 95.7L28.4 93.1L27.9 90.7L27.5 88.5L27.7 86L28.1 83.6L28.6 81.4L29.1 79.3L30.2 77.2L31.5 75.3L32.7 73.6L33.8 72.1L35.5 70.8L37.2 69.7L38.6 68.7L39.8 67.8L40.9 67.1L42 66.4L43 65.8L43.9 65.3L44.8 64.7L45.6 64.3L46.3 63.8L47 63.4L47.8 63L48.5 62.6L49.2 62.2L49.9 61.9L50.6 61.5L51.3 61.2L52 60.8L52.7 60.4L53.4 60.1L54.2 59.7L55 59.3L55.8 58.9L56.7 58.4L57.7 57.8L58.8 57.1L60 56.4L61.4 55.6L63.1 54.6L65.1 53.2L67.8 51.4L71 49.3L74.5 47.7L78.4 46.3L82.1 45.8L85.4 46.2L86.7 48.4L87.8 50.8L88.8 53.1L89.3 55.6L89 58.4L88.7 61L88.4 63.4L88.1 65.7L87.3 68L86.4 70.1Z" fill-opacity=".079"/><path d="M83.4 72.1L82.5 73.9L81.7 75.5L80.3 77L78.9 78.3L77.6 79.5L76.5 80.7L75.4 81.8L74 82.6L72.6 83.4L71.3 84L70.1 84.7L68.9 85.3L67.8 85.9L66.7 86.3L65.6 86.8L64.5 87.1L63.4 87.5L62.3 87.9L61.3 88.3L60.2 88.7L59.2 89.1L58.1 89.5L57 89.8L55.8 90.3L54.6 90.7L53.3 91.1L51.9 91.6L50.4 92.2L48.8 92.7L47 93.4L45 94L42.8 94.7L40.4 95.2L37.7 95.7L34.8 96L31.8 96.1L29.4 95.3L28.8 92.8L28.3 90.5L27.9 88.3L28.1 85.8L28.5 83.4L29.2 81.2L29.8 79.1L31 77.1L32.3 75.2L33.5 73.6L34.6 72.1L36.3 70.8L37.8 69.8L39.2 68.8L40.4 68L41.5 67.3L42.5 66.6L43.5 66L44.4 65.5L45.2 65L46 64.6L46.7 64.1L47.4 63.7L48.1 63.3L48.8 63L49.4 62.6L50.1 62.3L50.8 61.9L51.4 61.6L52.1 61.2L52.8 60.9L53.5 60.5L54.2 60.2L55 59.8L55.8 59.3L56.7 58.9L57.6 58.3L58.7 57.7L59.9 57L61.2 56.2L62.8 55.3L64.7 54L67.3 52.3L70.4 50.3L73.8 48.6L77.7 47.1L81.5 46.4L84.5 47L85.9 49L86.7 51.5L87.5 53.8L87.7 56.4L87.3 59.1L86.9 61.6L86.5 63.9L86 66.1L85.3 68.3L84.3 70.3Z" fill-opacity=".086"/><path d="M81.2 72.1L80.4 73.7L79.5 75.2L78.2 76.6L76.9 77.8L75.7 78.9L74.6 79.9L73.6 80.9L72.4 81.7L71.1 82.4L70 83L68.9 83.6L67.8 84.1L66.8 84.7L65.8 85.1L64.7 85.5L63.7 85.9L62.8 86.3L61.8 86.6L60.9 87L59.9 87.4L58.9 87.8L57.9 88.1L56.9 88.5L55.8 88.9L54.7 89.3L53.5 89.8L52.2 90.3L50.8 90.8L49.3 91.4L47.6 92L45.7 92.6L43.6 93.3L41.3 93.8L38.7 94.4L35.8 94.9L32.6 95.3L29.8 94.9L29.2 92.5L28.6 90.3L28.2 88.1L28.5 85.6L28.9 83.3L29.7 81L30.5 78.9L31.7 76.9L33.1 75.1L34.3 73.5L35.4 72.1L37 70.9L38.5 69.9L39.8 69L41 68.2L42 67.5L43 66.8L44 66.3L44.8 65.8L45.6 65.3L46.4 64.9L47.1 64.5L47.7 64.1L48.4 63.7L49 63.3L49.7 63L50.3 62.7L51 62.3L51.6 62L52.2 61.7L52.9 61.3L53.6 61L54.3 60.6L55 60.2L55.8 59.8L56.6 59.4L57.5 58.8L58.6 58.3L59.7 57.6L61 56.8L62.5 56L64.4 54.8L66.7 53.2L69.7 51.3L73.1 49.6L77 47.9L80.9 47.1L83.6 47.7L85.1 49.6L85.7 52.2L86.1 54.6L86.2 57.2L85.6 59.8L85.1 62.2L84.5 64.4L84 66.5L83.2 68.5L82.2 70.4Z" fill-opacity=".094"/><path d="M79.1 72.1L78.2 73.6L77.3 75L76.1 76.2L74.9 77.3L73.8 78.2L72.8 79.2L71.8 80L70.7 80.7L69.6 81.4L68.6 82L67.6 82.5L66.7 83L65.8 83.5L64.8 83.9L63.9 84.3L63 84.7L62.2 85L61.3 85.4L60.4 85.7L59.5 86.1L58.6 86.5L57.7 86.8L56.8 87.2L55.8 87.6L54.8 88L53.7 88.4L52.5 88.9L51.2 89.4L49.7 90L48.1 90.6L46.4 91.2L44.4 91.9L42.2 92.5L39.7 93.2L36.8 93.8L33.4 94.6L30.2 94.5L29.6 92.2L29 90L28.6 87.9L28.9 85.4L29.4 83.1L30.3 80.8L31.2 78.7L32.5 76.8L33.9 75L35.1 73.5L36.2 72.1L37.8 70.9L39.2 69.9L40.5 69.1L41.6 68.3L42.6 67.6L43.6 67.1L44.5 66.5L45.3 66.1L46 65.6L46.8 65.2L47.4 64.8L48.1 64.4L48.7 64.1L49.3 63.7L50 63.4L50.6 63.1L51.2 62.7L51.8 62.4L52.4 62.1L53 61.8L53.7 61.4L54.3 61.1L55 60.7L55.8 60.3L56.6 59.9L57.5 59.4L58.4 58.8L59.5 58.2L60.8 57.5L62.2 56.6L64 55.5L66.2 54.1L69 52.3L72.4 50.5L76.3 48.7L80.2 47.7L82.7 48.5L84.3 50.3L84.6 52.9L84.8 55.4L84.6 57.9L83.9 60.5L83.3 62.8L82.6 65L81.9 66.9L81.1 68.8L80.1 70.5Z" fill-opacity=".104"/><path d="M76.9 72.1L76 73.5L75.1 74.7L74.1 75.8L72.9 76.7L71.9 77.6L71 78.4L70.1 79.2L69.1 79.8L68.2 80.4L67.3 80.9L66.4 81.4L65.5 81.9L64.7 82.3L63.9 82.7L63.1 83.1L62.3 83.4L61.5 83.8L60.8 84.1L60 84.4L59.2 84.8L58.4 85.2L57.6 85.5L56.7 85.9L55.8 86.3L54.8 86.7L53.8 87.1L52.7 87.6L51.5 88.1L50.2 88.6L48.7 89.2L47.1 89.8L45.2 90.5L43.1 91.1L40.6 91.9L37.8 92.6L34.1 93.8L30.7 94.2L30 91.9L29.3 89.8L28.9 87.7L29.3 85.2L29.8 82.9L30.8 80.6L31.9 78.5L33.2 76.6L34.6 74.9L35.9 73.4L37 72.1L38.5 71L39.9 70L41.1 69.2L42.2 68.5L43.1 67.8L44.1 67.3L45 66.8L45.7 66.3L46.5 65.9L47.2 65.5L47.8 65.1L48.4 64.8L49 64.4L49.6 64.1L50.2 63.8L50.8 63.5L51.4 63.2L52 62.9L52.5 62.5L53.1 62.2L53.8 61.9L54.4 61.5L55.1 61.2L55.8 60.8L56.6 60.4L57.4 59.9L58.3 59.4L59.4 58.8L60.6 58.1L61.9 57.3L63.6 56.3L65.7 55L68.4 53.3L71.7 51.5L75.7 49.5L79.6 48.3L81.8 49.3L83.5 50.9L83.6 53.6L83.5 56.1L83 58.7L82.2 61.2L81.5 63.4L80.6 65.5L79.9 67.3L79 69.1L78 70.7Z" fill-opacity=".116"/><path d="M74.8 72.1L73.8 73.3L73 74.4L72 75.4L71 76.2L70 76.9L69.1 77.6L68.3 78.3L67.5 78.9L66.7 79.4L65.9 79.9L65.2 80.3L64.4 80.7L63.7 81.1L63 81.5L62.3 81.8L61.6 82.2L60.9 82.5L60.2 82.8L59.5 83.2L58.8 83.5L58.1 83.9L57.4 84.2L56.6 84.5L55.8 84.9L54.9 85.3L54 85.7L53 86.2L51.9 86.7L50.7 87.3L49.3 87.8L47.8 88.4L46 89.1L44 89.8L41.6 90.6L38.8 91.5L34.9 93L31.1 93.8L30.4 91.6L29.7 89.6L29.3 87.5L29.7 85L30.2 82.7L31.4 80.4L32.6 78.3L34 76.5L35.4 74.8L36.7 73.4L37.8 72.1L39.2 71L40.6 70.1L41.8 69.3L42.8 68.6L43.7 68L44.6 67.5L45.4 67L46.2 66.6L46.9 66.2L47.6 65.8L48.2 65.5L48.8 65.1L49.4 64.8L49.9 64.5L50.5 64.2L51 63.9L51.6 63.6L52.1 63.3L52.7 63L53.3 62.7L53.8 62.3L54.5 62L55.1 61.6L55.8 61.3L56.5 60.9L57.3 60.4L58.2 59.9L59.2 59.4L60.3 58.7L61.6 58L63.2 57.1L65.1 55.9L67.7 54.3L70.9 52.4L75 50.3L79 48.9L81 50.1L82.6 51.5L82.5 54.3L82.2 56.9L81.4 59.5L80.5 61.9L79.7 64L78.7 66L77.8 67.8L76.9 69.3L75.9 70.8Z" fill-opacity=".131"/><path d="M31.6 93.6L29.5 87.9L30.7 82.1L33.9 77.1L38.8 71.9L44.5 68.1L51 64.4L57.5 60.8L64 57.3L69.7 53.6L74 51.2L78.3 49.5L82 52.3L80.7 58.3L77.8 64.7L74.5 70.2L70 74.9L64.3 79L57.8 82.6L50.7 86.1L43.5 89L37.7 91.2L33.7 93.3Z" fill-opacity="1"/></g><path d="M21.2 108.3L117 7.2" stroke="#98c2e6" stroke-width="1.0" opacity="0.15"/><text class="t" x="21.2" y="116.5" text-anchor="middle">0</text><text class="t" x="15.9" y="109.9" text-anchor="end">0</text><text class="t" x="40.4" y="116.5" text-anchor="middle">2</text><text class="t" x="15.9" y="89.7" text-anchor="end">2</text><text class="t" x="59.5" y="116.5" text-anchor="middle">4</text><text class="t" x="15.9" y="69.5" text-anchor="end">4</text><text class="t" x="78.7" y="116.5" text-anchor="middle">6</text><text class="t" x="15.9" y="49.2" text-anchor="end">6</text><text class="t" x="97.8" y="116.5" text-anchor="middle">8</text><text class="t" x="15.9" y="29" text-anchor="end">8</text><text class="t" x="117" y="116.5" text-anchor="middle">10</text><text class="t" x="15.9" y="8.8" text-anchor="end">10</text><text class="a" x="69.1" y="126" text-anchor="middle">FAO56 P-M (mm/day)</text><text class="y" transform="translate(9.2,57.8) rotate(-90)" text-anchor="middle">PR2_R (mm/day)</text><text class="c" x="63.4" y="136.6" text-anchor="middle"><tspan font-weight="bold">(b3)</tspan> PR2_R</text></g>
<g transform="translate(320,271.5)"><path d="M25 7.2V108.3M21.2 104.3H117M28.9 7.2V108.3M21.2 100.2H117M32.7 7.2V108.3M21.2 96.2H117M36.5 7.2V108.3M21.2 92.1H117M44.2 7.2V108.3M21.2 84H117M48 7.2V108.3M21.2 80H117M51.9 7.2V108.3M21.2 75.9H117M55.7 7.2V108.3M21.2 71.9H117M63.4 7.2V108.3M21.2 63.8H117M67.2 7.2V108.3M21.2 59.8H117M71 7.2V108.3M21.2 55.7H117M74.8 7.2V108.3M21.2 51.7H117M82.5 7.2V108.3M21.2 43.6H117M86.3 7.2V108.3M21.2 39.6H117M90.2 7.2V108.3M21.2 35.5H117M94 7.2V108.3M21.2 31.5H117M101.7 7.2V108.3M21.2 23.4H117M105.5 7.2V108.3M21.2 19.3H117M109.3 7.2V108.3M21.2 15.3H117M113.2 7.2V108.3M21.2 11.2H117" stroke="#f3f3f3" stroke-width=".5" fill="none"/><path d="M21.2 7.2V108.3M21.2 108.3H117M40.4 7.2V108.3M21.2 88.1H117M59.5 7.2V108.3M21.2 67.9H117M78.7 7.2V108.3M21.2 47.6H117M97.8 7.2V108.3M21.2 27.4H117M117 7.2V108.3M21.2 7.2H117" stroke="#e6e6e6" stroke-width=".5" fill="none"/><path d="M21.2 108.3L117 7.2" stroke="#98c2e6" stroke-width="1.0"/><path d="M30.8 90.3L31.2 87.4L32.6 83.4L35.7 79.6L40.4 75.3L46 71L51.6 67.4L57.4 63.8L63.3 60.2L69.2 55.9L74 52.2L77.2 49.9L78.9 51.1L77.6 56.4L75.7 62.5L72.4 68.9L68.3 73.7L62.3 77.5L55.4 80.9L48.3 83.7L41.2 86.5L34.3 88.6L30.5 89.6Z" fill="#2270cc"/><g filter="url(#fh)"><path d="M88.1 71.5L87.1 73.5L86.1 75.4L85.2 77.2L84.4 79L82.7 80.4L81.1 81.7L79.6 82.9L78.2 84L76.8 85.1L75.2 85.9L73.6 86.5L72.1 87.1L70.7 87.7L69.4 88.3L68.1 88.8L66.7 89.3L65.4 89.6L64.1 89.9L62.8 90.2L61.6 90.5L60.3 90.9L59.1 91.2L57.8 91.5L56.5 91.8L55.1 92.1L53.7 92.4L52.3 92.8L50.7 93.1L49 93.5L47.2 94L45.2 94.4L43 94.9L40.5 95.5L37.9 95.7L35.1 95.9L32 96L29.2 95.5L27.2 94L27.2 91.1L27.1 88.5L27.1 86L27 83.7L28.1 81.2L29.2 78.8L30.3 76.7L31.7 74.8L33.5 73L35 71.5L36.3 70.2L37.6 69L38.9 68L40.1 67.1L41.2 66.3L42.1 65.6L43 64.9L43.9 64.3L44.8 63.7L45.7 63.2L46.5 62.7L47.2 62.3L48 61.8L48.7 61.4L49.4 61L50.1 60.5L50.9 60.1L51.6 59.7L52.3 59.2L53.1 58.8L53.9 58.3L54.7 57.8L55.6 57.3L56.5 56.7L57.5 56.1L58.6 55.4L59.9 54.5L61.3 53.5L63 52.3L65 50.9L67.5 49.1L70.7 46.9L74.1 45.1L77.8 43.7L80.7 43.9L83.4 44.7L86.2 45.5L88.3 47.1L89 49.8L89.7 52.3L90.4 54.8L91 57.2L90.7 59.9L90.3 62.5L89.9 64.9L89.5 67.2L89.1 69.4Z" fill-opacity=".200"/><path d="M85.8 71.5L84.8 73.4L83.9 75.1L83.1 76.8L82.2 78.4L80.6 79.7L79.1 80.9L77.7 82L76.4 83L75.2 84L73.7 84.7L72.2 85.3L70.9 85.9L69.6 86.5L68.4 87L67.2 87.5L66 87.9L64.7 88.2L63.5 88.5L62.4 88.9L61.2 89.2L60.1 89.5L58.9 89.8L57.7 90.1L56.5 90.4L55.2 90.7L53.9 91L52.5 91.4L51.1 91.8L49.5 92.2L47.8 92.6L45.9 93L43.8 93.6L41.4 94.2L38.9 94.5L36.1 94.7L33 95L30.1 94.7L27.7 93.6L27.5 90.9L27.5 88.3L27.6 85.8L27.7 83.4L28.9 80.9L30.3 78.6L31.4 76.5L32.9 74.6L34.6 73L36.1 71.5L37.4 70.3L38.7 69.2L39.9 68.2L41 67.4L42 66.6L42.9 65.9L43.8 65.3L44.7 64.7L45.5 64.2L46.3 63.7L47 63.2L47.8 62.8L48.5 62.4L49.2 62L49.8 61.6L50.5 61.2L51.2 60.8L51.9 60.3L52.6 59.9L53.3 59.5L54 59L54.8 58.6L55.6 58.1L56.5 57.6L57.4 57L58.5 56.3L59.7 55.5L61 54.5L62.6 53.4L64.5 52.1L66.9 50.5L69.8 48.4L73.2 46.5L76.9 44.9L80.1 44.6L82.7 45.3L85.3 46.2L87.1 48L87.6 50.7L88.1 53.3L88.6 55.7L89 58L88.6 60.6L88.2 63L87.7 65.3L87.3 67.5L86.9 69.5Z" fill-opacity=".079"/><path d="M83.6 71.5L82.6 73.2L81.7 74.8L80.9 76.4L80.1 77.8L78.6 79L77.2 80.1L75.9 81.1L74.7 82L73.5 82.9L72.2 83.6L70.9 84.1L69.7 84.7L68.5 85.2L67.4 85.7L66.3 86.2L65.2 86.6L64.1 86.9L63 87.2L61.9 87.5L60.8 87.8L59.8 88.1L58.7 88.4L57.6 88.7L56.5 89L55.3 89.3L54.1 89.7L52.8 90L51.4 90.4L50 90.8L48.3 91.2L46.6 91.7L44.6 92.2L42.3 92.8L39.9 93.2L37.1 93.6L34 94L31 93.9L28.2 93.2L27.9 90.6L27.8 88.1L28.1 85.5L28.4 83.1L29.8 80.6L31.3 78.3L32.6 76.3L34.1 74.5L35.8 72.9L37.2 71.5L38.4 70.3L39.7 69.3L40.9 68.4L41.9 67.6L42.9 66.9L43.8 66.2L44.6 65.6L45.4 65.1L46.2 64.6L46.9 64.2L47.6 63.7L48.3 63.3L49 62.9L49.6 62.5L50.2 62.2L50.9 61.8L51.5 61.4L52.1 61L52.8 60.6L53.5 60.2L54.2 59.8L54.9 59.4L55.7 58.9L56.5 58.4L57.4 57.8L58.4 57.2L59.5 56.4L60.8 55.6L62.3 54.5L64 53.3L66.2 51.8L69 49.8L72.2 48L76 46.2L79.5 45.3L82 46L84.5 46.9L85.9 49L86.2 51.6L86.5 54.2L86.8 56.6L87.1 58.9L86.6 61.3L86 63.6L85.6 65.7L85.1 67.8L84.6 69.7Z" fill-opacity=".086"/><path d="M81.3 71.5L80.4 73.1L79.5 74.6L78.7 75.9L77.9 77.3L76.5 78.3L75.3 79.3L74.1 80.2L72.9 81L71.9 81.8L70.7 82.4L69.5 83L68.4 83.5L67.4 84L66.4 84.4L65.4 84.8L64.4 85.2L63.4 85.5L62.4 85.8L61.4 86.1L60.5 86.4L59.5 86.7L58.5 87L57.5 87.3L56.5 87.6L55.4 88L54.3 88.3L53.1 88.6L51.8 89L50.4 89.4L48.9 89.8L47.2 90.3L45.3 90.8L43.2 91.4L40.8 91.9L38.1 92.5L35.1 92.9L31.9 93.1L28.7 92.9L28.3 90.4L28.2 87.9L28.6 85.3L29.2 82.8L30.6 80.3L32.3 78L33.7 76.1L35.2 74.3L36.9 72.8L38.3 71.5L39.5 70.4L40.7 69.4L41.8 68.6L42.8 67.9L43.7 67.2L44.6 66.6L45.4 66L46.1 65.5L46.8 65.1L47.5 64.7L48.2 64.3L48.8 63.9L49.4 63.5L50 63.1L50.6 62.8L51.2 62.4L51.8 62L52.4 61.7L53 61.3L53.7 60.9L54.3 60.5L55 60.1L55.7 59.7L56.5 59.2L57.3 58.7L58.3 58.1L59.3 57.4L60.5 56.6L61.9 55.7L63.5 54.6L65.5 53.2L68.2 51.3L71.2 49.4L75 47.4L78.9 46L81.4 46.7L83.7 47.7L84.7 49.9L84.8 52.6L84.9 55.1L85 57.5L85.1 59.7L84.5 62L83.9 64.2L83.4 66.2L82.9 68L82.3 69.8Z" fill-opacity=".094"/><path d="M79.1 71.5L78.1 72.9L77.3 74.3L76.5 75.5L75.7 76.7L74.5 77.6L73.3 78.5L72.2 79.3L71.2 80L70.3 80.7L69.2 81.3L68.2 81.8L67.2 82.2L66.3 82.7L65.4 83.1L64.5 83.5L63.6 83.8L62.7 84.1L61.8 84.4L61 84.7L60.1 85L59.2 85.3L58.3 85.6L57.4 85.9L56.5 86.3L55.5 86.6L54.5 86.9L53.4 87.2L52.2 87.6L50.9 88L49.5 88.4L47.9 88.9L46.1 89.4L44.1 90.1L41.8 90.7L39.1 91.3L36.1 91.9L32.8 92.3L29.1 92.5L28.7 90.1L28.6 87.6L29.1 85L29.9 82.6L31.5 80L33.3 77.7L34.8 75.8L36.4 74.2L38.1 72.7L39.4 71.5L40.6 70.5L41.7 69.6L42.8 68.8L43.7 68.1L44.6 67.5L45.4 66.9L46.1 66.4L46.8 65.9L47.5 65.5L48.2 65.1L48.8 64.8L49.4 64.4L49.9 64L50.5 63.7L51 63.4L51.6 63L52.1 62.7L52.7 62.4L53.3 62L53.8 61.7L54.5 61.3L55.1 60.9L55.8 60.5L56.5 60L57.3 59.6L58.1 59L59.1 58.4L60.2 57.6L61.5 56.8L63 55.8L64.9 54.5L67.3 52.8L70.3 50.9L74.1 48.6L78.2 46.7L80.7 47.3L82.9 48.4L83.4 50.8L83.4 53.5L83.3 56L83.2 58.4L83.1 60.5L82.5 62.7L81.8 64.7L81.2 66.6L80.7 68.3L80.1 70Z" fill-opacity=".104"/><path d="M76.8 71.5L75.9 72.8L75.1 74L74.3 75.1L73.6 76.1L72.4 76.9L71.4 77.7L70.4 78.4L69.5 79L68.6 79.6L67.7 80.1L66.8 80.6L66 81L65.2 81.4L64.4 81.8L63.6 82.2L62.8 82.5L62 82.8L61.3 83.1L60.5 83.3L59.7 83.6L59 83.9L58.2 84.2L57.3 84.5L56.5 84.9L55.6 85.2L54.6 85.5L53.6 85.8L52.6 86.2L51.4 86.6L50.1 87L48.6 87.5L46.9 88.1L45 88.7L42.8 89.4L40.1 90.2L37.1 90.9L33.7 91.5L29.6 92.1L29.1 89.9L28.9 87.4L29.6 84.8L30.6 82.3L32.3 79.7L34.3 77.5L36 75.6L37.6 74L39.2 72.7L40.5 71.5L41.7 70.6L42.7 69.7L43.7 69L44.7 68.4L45.5 67.8L46.2 67.3L46.9 66.8L47.6 66.4L48.2 66L48.8 65.6L49.4 65.3L49.9 64.9L50.4 64.6L50.9 64.3L51.4 64L52 63.7L52.5 63.3L53 63L53.5 62.7L54 62.4L54.6 62L55.2 61.7L55.8 61.3L56.5 60.9L57.2 60.4L58 59.9L58.9 59.3L59.9 58.7L61.1 57.9L62.5 57L64.2 55.9L66.5 54.2L69.3 52.3L73.2 49.8L77.6 47.4L80 48L82 49.1L82.2 51.8L82 54.5L81.7 57L81.4 59.2L81.1 61.3L80.4 63.4L79.7 65.3L79.1 67L78.5 68.6L77.8 70.1Z" fill-opacity=".116"/><path d="M74.5 71.5L73.7 72.6L72.9 73.7L72.1 74.6L71.4 75.5L70.4 76.2L69.4 76.9L68.5 77.5L67.7 78L67 78.5L66.2 79L65.5 79.4L64.8 79.8L64.1 80.2L63.4 80.5L62.7 80.8L62 81.1L61.4 81.4L60.7 81.7L60 82L59.4 82.3L58.7 82.5L58 82.8L57.3 83.2L56.5 83.5L55.7 83.8L54.8 84.1L53.9 84.5L52.9 84.8L51.8 85.2L50.6 85.6L49.3 86.1L47.7 86.7L45.9 87.4L43.8 88.1L41.1 89L38.2 89.8L34.6 90.7L30.1 91.8L29.4 89.6L29.3 87.2L30.1 84.5L31.3 82L33.2 79.4L35.3 77.2L37.1 75.4L38.8 73.9L40.4 72.6L41.7 71.5L42.8 70.6L43.7 69.8L44.7 69.2L45.6 68.6L46.3 68.1L47.1 67.6L47.7 67.2L48.3 66.8L48.9 66.4L49.4 66.1L49.9 65.8L50.4 65.5L50.9 65.2L51.4 64.9L51.8 64.6L52.3 64.3L52.8 64L53.3 63.7L53.7 63.4L54.2 63.1L54.8 62.8L55.3 62.4L55.9 62.1L56.5 61.7L57.2 61.3L57.9 60.8L58.7 60.3L59.7 59.7L60.7 59L62 58.2L63.6 57.2L65.6 55.7L68.3 53.8L72.3 51L77 48.2L79.3 48.7L81.2 49.8L81 52.7L80.6 55.4L80.1 57.9L79.6 60.1L79.2 62.1L78.3 64.1L77.6 65.9L76.9 67.5L76.3 68.9L75.5 70.3Z" fill-opacity=".131"/><path d="M30.1 91.7L29.6 87.2L31.2 82.6L34.6 78.5L39.4 74.1L45.1 69.7L50.8 66.1L56.6 62.5L62.4 58.9L68.2 54.6L73.1 50.8L77.2 48.3L80.4 50.5L79.1 56.8L77.1 63.1L73.8 69.8L69.3 74.9L63.1 78.8L56 82.3L48.9 85.2L41.8 88L34.8 90.1L31.2 91Z" fill-opacity="1"/></g><path d="M21.2 108.3L117 7.2" stroke="#98c2e6" stroke-width="1.0" opacity="0.15"/><text class="t" x="21.2" y="116.5" text-anchor="middle">0</text><text class="t" x="15.9" y="109.9" text-anchor="end">0</text><text class="t" x="40.4" y="116.5" text-anchor="middle">2</text><text class="t" x="15.9" y="89.7" text-anchor="end">2</text><text class="t" x="59.5" y="116.5" text-anchor="middle">4</text><text class="t" x="15.9" y="69.5" text-anchor="end">4</text><text class="t" x="78.7" y="116.5" text-anchor="middle">6</text><text class="t" x="15.9" y="49.2" text-anchor="end">6</text><text class="t" x="97.8" y="116.5" text-anchor="middle">8</text><text class="t" x="15.9" y="29" text-anchor="end">8</text><text class="t" x="117" y="116.5" text-anchor="middle">10</text><text class="t" x="15.9" y="8.8" text-anchor="end">10</text><text class="a" x="69.1" y="126" text-anchor="middle">FAO56 P-M (mm/day)</text><text class="y" transform="translate(9.2,57.8) rotate(-90)" text-anchor="middle">PR3_R (mm/day)</text><text class="c" x="63.4" y="136.6" text-anchor="middle"><tspan font-weight="bold">(c3)</tspan> PR3_R</text></g>
<g transform="translate(0,407.5)"><path d="M25 7.2V108.3M21.2 104.3H117M28.9 7.2V108.3M21.2 100.2H117M32.7 7.2V108.3M21.2 96.2H117M36.5 7.2V108.3M21.2 92.1H117M44.2 7.2V108.3M21.2 84H117M48 7.2V108.3M21.2 80H117M51.9 7.2V108.3M21.2 75.9H117M55.7 7.2V108.3M21.2 71.9H117M63.4 7.2V108.3M21.2 63.8H117M67.2 7.2V108.3M21.2 59.8H117M71 7.2V108.3M21.2 55.7H117M74.8 7.2V108.3M21.2 51.7H117M82.5 7.2V108.3M21.2 43.6H117M86.3 7.2V108.3M21.2 39.6H117M90.2 7.2V108.3M21.2 35.5H117M94 7.2V108.3M21.2 31.5H117M101.7 7.2V108.3M21.2 23.4H117M105.5 7.2V108.3M21.2 19.3H117M109.3 7.2V108.3M21.2 15.3H117M113.2 7.2V108.3M21.2 11.2H117" stroke="#f3f3f3" stroke-width=".5" fill="none"/><path d="M21.2 7.2V108.3M21.2 108.3H117M40.4 7.2V108.3M21.2 88.1H117M59.5 7.2V108.3M21.2 67.9H117M78.7 7.2V108.3M21.2 47.6H117M97.8 7.2V108.3M21.2 27.4H117M117 7.2V108.3M21.2 7.2H117" stroke="#e6e6e6" stroke-width=".5" fill="none"/><path d="M21.2 108.3L117 7.2" stroke="#98c2e6" stroke-width="1.0"/><path d="M31.4 100.2L33.2 95.6L34.6 88.8L37.4 81.9L41.4 75.7L46 71.5L51.4 67.6L57.7 64.3L64.1 61L70.4 58.4L74.9 56.6L77.9 56.3L79.5 56.7L78.4 59.1L76.2 63.2L72.2 67L66.7 71.5L61.1 75.4L54.5 79.7L48.5 84.6L42.8 89.4L37 94.2L32.1 98L30.1 99.6Z" fill="#2270cc"/><g filter="url(#fh)"><path d="M84.6 74.4L82.8 76.2L81.2 77.9L79.6 79.4L77.9 80.7L76.4 81.8L75 82.9L73.7 83.9L72.4 84.8L71.1 85.6L70 86.4L68.8 87.1L67.7 87.8L66.7 88.5L65.7 89.1L64.7 89.8L63.7 90.5L62.6 91.2L61.6 92L60.5 92.7L59.4 93.5L58.3 94.3L57.1 95.3L55.8 96.3L54.3 97.4L52.7 98.7L50.9 100L49 101.2L46.7 102.7L44.1 104.3L41.4 105.4L38.4 106.6L35 107.8L32.4 107.2L29.6 106.5L27.9 104.5L27.5 101.1L27.3 98.1L27 95.3L27.5 92.3L27.9 89.6L28.3 87.2L29.1 84.8L30 82.6L30.8 80.7L31.5 78.9L32.1 77.3L33.1 75.7L34 74.4L34.9 73.1L35.7 71.9L36.4 70.8L37.1 69.7L38 68.8L39.1 68L40.1 67.3L41 66.6L41.8 66L42.6 65.4L43.4 64.8L44.2 64.2L45 63.8L45.8 63.3L46.6 62.8L47.4 62.4L48.2 61.9L49 61.5L49.8 61L50.6 60.5L51.5 60L52.4 59.6L53.3 59L54.3 58.5L55.4 57.9L56.6 57.3L57.8 56.6L59.3 55.9L60.9 55L62.7 54L64.9 52.8L67.5 51.5L70.3 50.4L73.6 49.2L77.2 48.2L81.2 47.4L83.9 48.4L86.4 49.7L89.1 51.1L90.3 53.6L90.8 56.4L91.2 59.1L91.6 61.7L90.5 64.7L89.2 67.4L88.1 69.9L86.6 72.2Z" fill-opacity=".200"/><path d="M81.8 74.4L80.2 76L78.7 77.6L77.2 78.9L75.7 80.1L74.3 81.1L73 82.1L71.8 83L70.7 83.8L69.5 84.5L68.5 85.2L67.4 85.9L66.5 86.5L65.5 87.1L64.6 87.7L63.7 88.3L62.8 89L61.8 89.6L60.9 90.3L59.9 90.9L58.9 91.6L57.9 92.4L56.8 93.2L55.6 94.2L54.3 95.2L52.9 96.3L51.3 97.5L49.5 98.7L47.4 100L45.1 101.5L42.6 102.6L39.8 103.8L36.6 105.1L33.9 104.9L30.9 104.9L28.4 104L28.1 100.6L27.9 97.5L27.8 94.7L28.3 91.7L28.8 89.1L29.3 86.7L30 84.4L30.9 82.3L31.7 80.4L32.5 78.7L33.1 77.1L34.1 75.7L35 74.4L35.8 73.1L36.6 72L37.4 71L38 70L38.9 69.1L39.9 68.4L40.8 67.7L41.7 67.1L42.5 66.5L43.3 65.9L44 65.3L44.8 64.8L45.5 64.3L46.3 63.9L47 63.4L47.8 63L48.5 62.6L49.3 62.1L50 61.7L50.8 61.2L51.6 60.8L52.5 60.3L53.4 59.8L54.3 59.3L55.3 58.8L56.4 58.2L57.7 57.6L59 56.8L60.5 56L62.3 55.1L64.4 54L66.8 52.7L69.5 51.7L72.6 50.5L76.1 49.5L80.1 48.6L82.9 49.3L85.4 50.5L87.9 51.9L88.8 54.4L89 57.2L89.1 59.9L89.1 62.5L87.7 65.4L86.4 68L85.2 70.3L83.7 72.4Z" fill-opacity=".079"/><path d="M79.1 74.4L77.6 75.9L76.2 77.2L74.8 78.4L73.4 79.5L72.2 80.4L71 81.3L70 82.1L68.9 82.8L67.9 83.4L67 84.1L66.1 84.6L65.2 85.2L64.3 85.8L63.5 86.3L62.7 86.9L61.9 87.4L61 88L60.2 88.6L59.3 89.2L58.5 89.8L57.5 90.5L56.5 91.2L55.5 92.1L54.3 93L53 94L51.6 95.1L50 96.1L48.1 97.4L46 98.8L43.8 99.9L41.2 101L38.1 102.4L35.4 102.7L32.1 103.3L28.8 103.4L28.7 100L28.6 96.9L28.6 94.1L29.1 91.2L29.7 88.6L30.2 86.2L31 84L31.8 82L32.7 80.1L33.4 78.5L34.1 77L35 75.6L35.9 74.4L36.8 73.2L37.6 72.1L38.3 71.2L39 70.2L39.8 69.4L40.7 68.7L41.6 68.1L42.4 67.5L43.2 66.9L43.9 66.4L44.6 65.8L45.3 65.3L46 64.9L46.7 64.5L47.4 64.1L48.1 63.6L48.8 63.2L49.5 62.8L50.3 62.4L51 62L51.8 61.5L52.6 61.1L53.4 60.7L54.3 60.2L55.3 59.7L56.3 59.1L57.5 58.5L58.7 57.8L60.2 57L61.8 56.2L63.8 55.1L66.1 53.9L68.6 52.9L71.7 51.7L75 50.7L78.9 49.8L81.8 50.2L84.4 51.3L86.7 52.7L87.4 55.3L87.2 58.1L87 60.8L86.5 63.4L85 66.1L83.6 68.5L82.3 70.7L80.9 72.6Z" fill-opacity=".086"/><path d="M76.4 74.4L74.9 75.7L73.7 76.9L72.4 78L71.2 78.9L70.1 79.7L69.1 80.5L68.1 81.2L67.2 81.8L66.3 82.4L65.5 82.9L64.7 83.4L63.9 83.9L63.1 84.4L62.4 84.9L61.7 85.4L61 85.9L60.2 86.4L59.5 86.9L58.7 87.4L58 88L57.1 88.5L56.3 89.2L55.3 89.9L54.3 90.8L53.2 91.7L51.9 92.6L50.5 93.6L48.9 94.7L47 96L44.9 97.1L42.5 98.2L39.7 99.7L36.9 100.4L33.4 101.7L29.3 102.9L29.2 99.4L29.2 96.3L29.4 93.5L29.9 90.7L30.5 88.1L31.1 85.8L31.9 83.6L32.8 81.7L33.6 79.9L34.4 78.3L35.1 76.9L36 75.6L36.8 74.4L37.7 73.3L38.5 72.3L39.2 71.4L39.9 70.5L40.7 69.7L41.5 69.1L42.3 68.5L43.1 67.9L43.8 67.4L44.5 66.8L45.2 66.4L45.9 65.9L46.5 65.5L47.2 65.1L47.8 64.7L48.5 64.3L49.1 63.9L49.8 63.5L50.5 63.1L51.2 62.7L51.9 62.3L52.7 61.9L53.5 61.5L54.3 61L55.2 60.5L56.2 60L57.3 59.4L58.5 58.8L59.8 58.1L61.4 57.2L63.2 56.3L65.4 55.1L67.8 54.1L70.7 53L73.9 52L77.7 50.9L80.8 51.1L83.4 52.1L85.5 53.5L85.9 56.1L85.5 59L84.9 61.7L84 64.3L82.3 66.9L80.8 69.1L79.5 71L78 72.8Z" fill-opacity=".094"/><path d="M73.6 74.4L72.3 75.5L71.2 76.6L70.1 77.5L69 78.3L68 79L67.1 79.7L66.3 80.3L65.5 80.8L64.7 81.3L64 81.8L63.3 82.2L62.6 82.7L62 83.1L61.3 83.5L60.7 83.9L60.1 84.3L59.4 84.8L58.8 85.2L58.1 85.6L57.5 86.1L56.8 86.6L56 87.2L55.2 87.8L54.3 88.5L53.3 89.3L52.2 90.2L51 91L49.6 92L47.9 93.2L46.1 94.3L43.9 95.5L41.2 97L38.4 98.1L34.6 100L29.8 102.3L29.8 98.9L29.9 95.8L30.1 92.9L30.7 90.1L31.4 87.6L32.1 85.3L32.8 83.3L33.7 81.3L34.6 79.6L35.4 78.1L36.1 76.7L36.9 75.5L37.8 74.4L38.7 73.3L39.4 72.4L40.2 71.5L40.8 70.7L41.6 70L42.4 69.4L43.1 68.8L43.8 68.3L44.5 67.8L45.2 67.3L45.8 66.9L46.4 66.4L47 66L47.6 65.7L48.2 65.3L48.8 64.9L49.5 64.5L50.1 64.1L50.7 63.8L51.4 63.4L52.1 63L52.8 62.7L53.5 62.3L54.3 61.8L55.2 61.4L56.1 60.9L57.1 60.4L58.2 59.8L59.5 59.1L61 58.3L62.7 57.4L64.7 56.3L67 55.4L69.7 54.3L72.8 53.2L76.6 52.1L79.7 52.1L82.3 52.8L84.3 54.3L84.4 57L83.7 59.9L82.7 62.6L81.4 65.1L79.6 67.6L77.9 69.7L76.6 71.4L75.1 73Z" fill-opacity=".104"/><path d="M70.9 74.4L69.7 75.4L68.7 76.2L67.7 77L66.8 77.7L65.9 78.3L65.2 78.8L64.4 79.3L63.8 79.8L63.1 80.2L62.5 80.6L61.9 81L61.3 81.4L60.8 81.7L60.2 82.1L59.7 82.4L59.2 82.8L58.6 83.1L58.1 83.5L57.5 83.9L57 84.3L56.4 84.7L55.7 85.2L55.1 85.7L54.3 86.3L53.5 87L52.6 87.7L51.5 88.5L50.3 89.4L48.9 90.4L47.2 91.5L45.3 92.7L42.8 94.3L39.9 95.9L35.8 98.4L30.3 101.8L30.3 98.3L30.5 95.2L30.9 92.3L31.5 89.6L32.3 87.1L33 84.9L33.8 82.9L34.6 81L35.6 79.4L36.4 77.9L37.1 76.6L37.9 75.4L38.7 74.4L39.6 73.4L40.4 72.5L41.1 71.7L41.8 71L42.5 70.3L43.2 69.7L43.9 69.2L44.6 68.7L45.2 68.3L45.8 67.8L46.4 67.4L47 67L47.5 66.6L48.1 66.2L48.6 65.9L49.2 65.5L49.8 65.1L50.4 64.8L51 64.5L51.6 64.1L52.2 63.8L52.9 63.4L53.6 63.1L54.3 62.7L55.1 62.3L56 61.8L56.9 61.3L58 60.7L59.1 60.1L60.5 59.4L62.1 58.5L64 57.5L66.2 56.6L68.7 55.6L71.7 54.5L75.4 53.3L78.7 53L81.3 53.6L83.1 55.1L82.9 57.8L81.9 60.7L80.6 63.5L78.9 66L76.8 68.3L75.1 70.2L73.7 71.8L72.3 73.2Z" fill-opacity=".116"/><path d="M68.2 74.4L67.1 75.2L66.2 75.9L65.3 76.5L64.6 77.1L63.9 77.6L63.2 78L62.6 78.4L62 78.8L61.5 79.2L61 79.5L60.5 79.8L60 80.1L59.6 80.4L59.2 80.7L58.7 80.9L58.3 81.2L57.8 81.5L57.4 81.8L56.9 82.1L56.5 82.4L56 82.8L55.5 83.1L54.9 83.6L54.3 84.1L53.6 84.7L52.9 85.3L52 85.9L51 86.7L49.8 87.7L48.4 88.7L46.6 89.9L44.4 91.6L41.4 93.6L37.1 96.8L30.8 101.2L30.9 97.8L31.2 94.6L31.7 91.7L32.3 89.1L33.1 86.6L33.9 84.4L34.7 82.5L35.6 80.7L36.5 79.1L37.4 77.7L38.1 76.5L38.8 75.4L39.6 74.4L40.5 73.4L41.3 72.6L42.1 71.9L42.7 71.2L43.4 70.6L44 70.1L44.6 69.6L45.3 69.1L45.9 68.7L46.4 68.3L47 67.9L47.5 67.5L48 67.2L48.5 66.8L49.1 66.5L49.6 66.1L50.1 65.8L50.6 65.5L51.2 65.2L51.8 64.9L52.4 64.5L53 64.2L53.6 63.9L54.3 63.5L55 63.1L55.8 62.7L56.7 62.2L57.7 61.7L58.8 61.1L60.1 60.5L61.5 59.7L63.3 58.8L65.3 57.9L67.7 56.9L70.6 55.7L74.2 54.4L77.6 53.9L80.3 54.4L81.9 55.9L81.5 58.7L80.2 61.6L78.5 64.3L76.3 66.9L74.1 69L72.3 70.8L70.8 72.2L69.4 73.4Z" fill-opacity=".131"/><path d="M31.2 101.8L31.6 95.3L33.1 88.3L36 81.2L40.2 74.7L45 70.2L50.6 66.3L57 62.9L63.4 59.5L69.8 56.9L74.5 55L78.1 54.7L80.9 56L79.9 59.7L77.5 64.1L73.3 68.2L67.7 72.8L62 76.7L55.4 80.9L49.6 85.9L43.8 90.7L38 95.4L33.1 99.3L31.4 100.5Z" fill-opacity="1"/></g><path d="M21.2 108.3L117 7.2" stroke="#98c2e6" stroke-width="1.0" opacity="0.15"/><text class="t" x="21.2" y="116.5" text-anchor="middle">0</text><text class="t" x="15.9" y="109.9" text-anchor="end">0</text><text class="t" x="40.4" y="116.5" text-anchor="middle">2</text><text class="t" x="15.9" y="89.7" text-anchor="end">2</text><text class="t" x="59.5" y="116.5" text-anchor="middle">4</text><text class="t" x="15.9" y="69.5" text-anchor="end">4</text><text class="t" x="78.7" y="116.5" text-anchor="middle">6</text><text class="t" x="15.9" y="49.2" text-anchor="end">6</text><text class="t" x="97.8" y="116.5" text-anchor="middle">8</text><text class="t" x="15.9" y="29" text-anchor="end">8</text><text class="t" x="117" y="116.5" text-anchor="middle">10</text><text class="t" x="15.9" y="8.8" text-anchor="end">10</text><text class="a" x="69.1" y="126" text-anchor="middle">FAO56 P-M (mm/day)</text><text class="y" transform="translate(9.2,57.8) rotate(-90)" text-anchor="middle">MLR_RR (mm/day)</text><text class="c" x="63.4" y="136.6" text-anchor="middle"><tspan font-weight="bold">(a4)</tspan> MLR_RR</text></g>
<g transform="translate(160,407.5)"><path d="M25 7.2V108.3M21.2 104.3H117M28.9 7.2V108.3M21.2 100.2H117M32.7 7.2V108.3M21.2 96.2H117M36.5 7.2V108.3M21.2 92.1H117M44.2 7.2V108.3M21.2 84H117M48 7.2V108.3M21.2 80H117M51.9 7.2V108.3M21.2 75.9H117M55.7 7.2V108.3M21.2 71.9H117M63.4 7.2V108.3M21.2 63.8H117M67.2 7.2V108.3M21.2 59.8H117M71 7.2V108.3M21.2 55.7H117M74.8 7.2V108.3M21.2 51.7H117M82.5 7.2V108.3M21.2 43.6H117M86.3 7.2V108.3M21.2 39.6H117M90.2 7.2V108.3M21.2 35.5H117M94 7.2V108.3M21.2 31.5H117M101.7 7.2V108.3M21.2 23.4H117M105.5 7.2V108.3M21.2 19.3H117M109.3 7.2V108.3M21.2 15.3H117M113.2 7.2V108.3M21.2 11.2H117" stroke="#f3f3f3" stroke-width=".5" fill="none"/><path d="M21.2 7.2V108.3M21.2 108.3H117M40.4 7.2V108.3M21.2 88.1H117M59.5 7.2V108.3M21.2 67.9H117M78.7 7.2V108.3M21.2 47.6H117M97.8 7.2V108.3M21.2 27.4H117M117 7.2V108.3M21.2 7.2H117" stroke="#e6e6e6" stroke-width=".5" fill="none"/><path d="M21.2 108.3L117 7.2" stroke="#98c2e6" stroke-width="1.0"/><path d="M31.6 94L32.7 91.9L35.1 88.2L38.7 83.2L42.3 77.4L46.3 71.9L51.5 67.1L57.8 62.8L64.2 58.5L69.9 54.8L74.6 51.8L77 50.3L78.5 51.4L77.8 56.4L75.3 63.2L71.6 69.1L66.8 74.5L61.3 78.7L55 82.9L48 86.4L40.8 89.2L34.3 92.1L31 93.4Z" fill="#2270cc"/><g filter="url(#fh)"><path d="M87.2 72L86.3 73.9L85.5 75.7L84.2 77.3L82.8 78.8L81.5 80.2L80.2 81.5L79.1 82.7L78 83.9L76.5 84.8L75.1 85.6L73.8 86.4L72.6 87.2L71.3 88L70.1 88.7L69 89.4L67.7 90L66.5 90.5L65.2 91L64 91.5L62.7 92.1L61.4 92.6L60.1 93.1L58.7 93.6L57.3 94L55.9 94.4L54.3 94.8L52.7 95.3L51 95.8L49.1 96.2L47.1 96.7L44.9 97.2L42.5 97.7L39.8 98.2L36.9 98.5L33.6 99L30.6 98.7L27.7 98L27.2 95.1L27.1 92.2L27 89.5L28.8 86L30.6 83.1L32.1 80.5L33.4 78.4L34.5 76.5L35.5 74.9L36.5 73.3L37.5 72L38.3 70.7L39.1 69.6L39.9 68.5L40.6 67.5L41.4 66.6L42.3 65.8L43.2 65L44 64.3L44.8 63.6L45.5 62.9L46.2 62.3L47 61.6L47.7 61L48.5 60.4L49.3 59.9L50 59.3L50.8 58.8L51.6 58.2L52.5 57.7L53.3 57L54.2 56.4L55.2 55.8L56.2 55.1L57.3 54.5L58.5 53.8L59.8 53L61.3 52.1L62.9 51.1L64.8 50L67 48.7L69.6 47.2L72.3 46.1L75.5 44.8L78.7 44.2L81.7 44.2L85.1 44.2L86.6 46.3L87.9 48.5L89.2 50.7L90.4 52.9L90.8 55.5L90.6 58.2L90.4 60.7L90.3 63.2L90.1 65.5L89.2 67.8L88.2 70Z" fill-opacity=".200"/><path d="M85 72L84.1 73.7L83.2 75.4L82 76.9L80.7 78.2L79.5 79.5L78.4 80.7L77.3 81.8L76.3 82.9L74.9 83.7L73.7 84.5L72.5 85.3L71.3 86L70.2 86.7L69.1 87.4L68.1 88L66.9 88.6L65.7 89.1L64.6 89.5L63.5 90L62.3 90.6L61.1 91.1L59.9 91.6L58.6 92.1L57.3 92.5L56 92.9L54.5 93.3L53 93.8L51.4 94.3L49.6 94.7L47.7 95.2L45.6 95.7L43.3 96.3L40.7 96.8L37.9 97.3L34.6 97.9L31.4 97.9L28.2 97.5L27.7 94.7L28 91.6L28.3 88.7L30.1 85.4L31.8 82.5L33.2 80.2L34.5 78.1L35.6 76.3L36.6 74.7L37.5 73.3L38.4 72L39.3 70.8L40.1 69.7L40.8 68.7L41.5 67.7L42.3 66.9L43.1 66.1L43.9 65.4L44.7 64.7L45.4 64L46.2 63.4L46.8 62.8L47.5 62.2L48.2 61.6L49 61.1L49.7 60.6L50.4 60L51.2 59.5L51.9 59L52.7 58.4L53.5 57.9L54.4 57.3L55.3 56.7L56.3 56.1L57.3 55.4L58.5 54.8L59.7 54L61.1 53.2L62.6 52.2L64.4 51.2L66.5 49.9L68.9 48.4L71.6 47.3L74.7 46L78 45.1L81.1 44.9L84.3 45L85.7 47.1L86.7 49.4L87.8 51.6L88.7 53.9L88.9 56.4L88.6 59L88.3 61.5L88 63.8L87.8 65.9L86.9 68.1L85.9 70.1Z" fill-opacity=".079"/><path d="M82.7 72L81.8 73.6L81 75.1L79.9 76.5L78.7 77.7L77.6 78.9L76.6 79.9L75.6 81L74.6 81.9L73.4 82.7L72.2 83.4L71.2 84.1L70.1 84.8L69.1 85.4L68.1 86L67.1 86.6L66.1 87.1L65 87.6L64 88.1L63 88.6L61.9 89L60.8 89.5L59.7 90.1L58.5 90.5L57.3 90.9L56.1 91.4L54.7 91.8L53.3 92.3L51.8 92.8L50.1 93.2L48.3 93.8L46.3 94.3L44.1 95L41.6 95.5L38.8 96.1L35.6 96.7L32.2 97.1L28.7 97.1L28.2 94.3L28.9 91L29.6 88L31.4 84.8L33 82L34.4 79.8L35.6 77.8L36.7 76.1L37.6 74.6L38.5 73.2L39.4 72L40.2 70.9L41 69.8L41.7 68.9L42.4 68L43.1 67.2L44 66.4L44.7 65.8L45.4 65.1L46.1 64.5L46.8 63.9L47.4 63.3L48.1 62.7L48.8 62.2L49.5 61.7L50.1 61.2L50.8 60.7L51.5 60.3L52.3 59.8L53 59.2L53.8 58.7L54.6 58.1L55.4 57.6L56.3 57L57.3 56.4L58.4 55.7L59.6 55L60.9 54.2L62.3 53.3L64 52.3L66 51.1L68.3 49.7L70.9 48.5L73.9 47.1L77.3 46L80.5 45.6L83.4 45.9L84.7 48L85.5 50.3L86.3 52.6L86.9 54.9L87 57.4L86.6 59.8L86.2 62.2L85.8 64.3L85.4 66.4L84.6 68.4L83.6 70.3Z" fill-opacity=".086"/><path d="M80.4 72L79.5 73.4L78.8 74.8L77.7 76L76.7 77.2L75.7 78.2L74.7 79.2L73.8 80.1L72.9 81L71.8 81.7L70.8 82.3L69.8 82.9L68.9 83.5L68 84.1L67.1 84.7L66.2 85.3L65.3 85.7L64.3 86.2L63.4 86.6L62.5 87.1L61.5 87.5L60.5 88L59.5 88.5L58.4 89L57.3 89.4L56.2 89.8L54.9 90.3L53.6 90.8L52.2 91.3L50.6 91.8L48.9 92.3L47 92.9L44.9 93.6L42.5 94.2L39.8 94.8L36.6 95.6L33 96.3L29.2 96.7L28.8 93.9L29.8 90.4L30.9 87.3L32.7 84.1L34.2 81.5L35.6 79.4L36.7 77.5L37.8 75.9L38.7 74.4L39.6 73.1L40.4 72L41.1 70.9L41.9 69.9L42.6 69.1L43.3 68.2L44 67.5L44.8 66.8L45.5 66.1L46.2 65.5L46.8 64.9L47.4 64.4L48 63.8L48.7 63.3L49.3 62.8L49.9 62.3L50.6 61.9L51.2 61.4L51.9 61L52.6 60.5L53.3 60L54 59.5L54.7 59L55.5 58.5L56.4 57.9L57.3 57.4L58.3 56.7L59.4 56.1L60.6 55.3L62 54.4L63.6 53.4L65.5 52.3L67.7 50.9L70.2 49.7L73.2 48.3L76.6 46.9L79.9 46.2L82.6 46.8L83.7 48.8L84.3 51.3L84.9 53.6L85.2 55.9L85.1 58.3L84.7 60.7L84.1 62.9L83.6 64.9L83.1 66.8L82.3 68.7L81.3 70.4Z" fill-opacity=".094"/><path d="M78.1 72L77.3 73.3L76.5 74.5L75.6 75.6L74.7 76.6L73.8 77.6L72.9 78.4L72 79.2L71.2 80L70.2 80.6L69.3 81.2L68.5 81.8L67.7 82.3L66.9 82.8L66.1 83.4L65.3 83.9L64.5 84.3L63.6 84.7L62.8 85.2L62 85.6L61.1 86L60.2 86.5L59.3 87L58.3 87.4L57.3 87.8L56.3 88.3L55.1 88.8L53.9 89.3L52.6 89.8L51.1 90.3L49.5 90.8L47.7 91.5L45.6 92.2L43.4 92.8L40.8 93.6L37.6 94.5L33.9 95.4L29.7 96.2L29.3 93.5L30.7 89.8L32.1 86.5L34 83.5L35.5 81L36.7 79L37.8 77.2L38.8 75.7L39.7 74.3L40.6 73.1L41.4 72L42.1 71L42.8 70.1L43.5 69.2L44.2 68.5L44.9 67.8L45.6 67.1L46.3 66.5L46.9 65.9L47.5 65.4L48.1 64.9L48.6 64.4L49.2 63.9L49.8 63.4L50.4 63L51 62.6L51.6 62.1L52.3 61.7L52.9 61.3L53.5 60.8L54.2 60.4L54.9 59.9L55.7 59.4L56.5 58.9L57.3 58.3L58.3 57.7L59.3 57.1L60.4 56.3L61.7 55.5L63.2 54.6L65 53.5L67.1 52.2L69.5 50.9L72.4 49.4L75.9 47.7L79.3 46.9L81.7 47.6L82.7 49.7L83.1 52.2L83.4 54.5L83.4 56.9L83.2 59.2L82.7 61.5L82 63.6L81.3 65.5L80.8 67.3L80 69L79 70.6Z" fill-opacity=".104"/><path d="M75.8 72L75 73.1L74.3 74.2L73.4 75.2L72.6 76.1L71.9 76.9L71 77.7L70.3 78.4L69.5 79L68.7 79.6L67.9 80.1L67.2 80.6L66.4 81.1L65.7 81.6L65 82L64.4 82.5L63.6 82.9L62.9 83.3L62.2 83.7L61.4 84.1L60.7 84.5L59.9 85L59.1 85.4L58.2 85.9L57.3 86.3L56.4 86.8L55.3 87.3L54.2 87.8L53 88.3L51.6 88.8L50.1 89.4L48.4 90.1L46.4 90.8L44.3 91.5L41.7 92.3L38.6 93.4L34.7 94.6L30.2 95.8L29.8 93.1L31.6 89.2L33.4 85.8L35.3 82.9L36.7 80.5L37.9 78.6L38.9 76.9L39.9 75.4L40.8 74.2L41.6 73L42.3 72L43 71L43.7 70.2L44.4 69.4L45.1 68.7L45.8 68L46.4 67.5L47 66.9L47.6 66.4L48.2 65.9L48.7 65.4L49.2 64.9L49.8 64.4L50.3 64L50.9 63.6L51.5 63.2L52.1 62.8L52.6 62.4L53.2 62L53.8 61.6L54.4 61.2L55.1 60.7L55.8 60.3L56.5 59.8L57.3 59.3L58.2 58.7L59.2 58.1L60.2 57.4L61.4 56.6L62.8 55.7L64.5 54.7L66.5 53.4L68.8 52.2L71.6 50.5L75.2 48.6L78.7 47.6L80.8 48.5L81.7 50.6L81.9 53.1L82 55.5L81.7 57.9L81.2 60.2L80.7 62.3L79.8 64.3L79.1 66.1L78.4 67.8L77.7 69.3L76.7 70.7Z" fill-opacity=".116"/><path d="M73.5 72L72.7 73L72 73.9L71.3 74.8L70.6 75.5L69.9 76.3L69.2 76.9L68.5 77.5L67.8 78L67.1 78.5L66.5 79L65.8 79.4L65.2 79.9L64.6 80.3L64 80.7L63.4 81.1L62.8 81.5L62.2 81.9L61.6 82.3L60.9 82.6L60.3 83L59.6 83.4L58.9 83.9L58.1 84.3L57.3 84.8L56.5 85.3L55.5 85.8L54.5 86.3L53.4 86.8L52.1 87.3L50.7 87.9L49.1 88.7L47.2 89.4L45.2 90.2L42.7 91.1L39.6 92.2L35.5 93.8L30.7 95.4L30.4 92.7L32.5 88.6L34.7 85.1L36.5 82.2L37.9 80L39 78.2L40 76.6L41 75.2L41.9 74L42.6 72.9L43.3 72L43.9 71.1L44.7 70.3L45.4 69.6L46 68.9L46.6 68.3L47.2 67.8L47.8 67.3L48.3 66.8L48.8 66.3L49.3 65.8L49.8 65.4L50.3 65L50.9 64.6L51.4 64.3L51.9 63.9L52.5 63.5L53 63.2L53.5 62.8L54.1 62.4L54.7 62L55.3 61.6L55.9 61.2L56.6 60.7L57.3 60.2L58.1 59.7L59 59.1L60 58.5L61.1 57.7L62.5 56.9L64 55.8L65.9 54.7L68.1 53.4L70.9 51.7L74.5 49.5L78.1 48.3L80 49.3L80.8 51.4L80.7 54L80.5 56.5L79.9 58.9L79.3 61.1L78.7 63.1L77.7 65.1L76.9 66.7L76.1 68.2L75.4 69.6L74.4 70.9Z" fill-opacity=".131"/><path d="M30.1 94.7L31.2 91.2L33.8 87.3L37.4 82.3L41 76.5L45.1 70.9L50.5 65.8L56.9 61.5L63.4 57.1L69.1 53.5L73.8 50.4L77.1 48.7L79.9 50.7L79.3 56.8L76.8 63.9L72.9 70.1L67.9 75.7L62.2 80L55.8 84.3L48.6 87.8L41.4 90.7L34.9 93.6L30.9 95Z" fill-opacity="1"/></g><path d="M21.2 108.3L117 7.2" stroke="#98c2e6" stroke-width="1.0" opacity="0.15"/><text class="t" x="21.2" y="116.5" text-anchor="middle">0</text><text class="t" x="15.9" y="109.9" text-anchor="end">0</text><text class="t" x="40.4" y="116.5" text-anchor="middle">2</text><text class="t" x="15.9" y="89.7" text-anchor="end">2</text><text class="t" x="59.5" y="116.5" text-anchor="middle">4</text><text class="t" x="15.9" y="69.5" text-anchor="end">4</text><text class="t" x="78.7" y="116.5" text-anchor="middle">6</text><text class="t" x="15.9" y="49.2" text-anchor="end">6</text><text class="t" x="97.8" y="116.5" text-anchor="middle">8</text><text class="t" x="15.9" y="29" text-anchor="end">8</text><text class="t" x="117" y="116.5" text-anchor="middle">10</text><text class="t" x="15.9" y="8.8" text-anchor="end">10</text><text class="a" x="69.1" y="126" text-anchor="middle">FAO56 P-M (mm/day)</text><text class="y" transform="translate(9.2,57.8) rotate(-90)" text-anchor="middle">PR2_RR (mm/day)</text><text class="c" x="63.4" y="136.6" text-anchor="middle"><tspan font-weight="bold">(b4)</tspan> PR2_RR</text></g>
<g transform="translate(320,407.5)"><path d="M25 7.2V108.3M21.2 104.3H117M28.9 7.2V108.3M21.2 100.2H117M32.7 7.2V108.3M21.2 96.2H117M36.5 7.2V108.3M21.2 92.1H117M44.2 7.2V108.3M21.2 84H117M48 7.2V108.3M21.2 80H117M51.9 7.2V108.3M21.2 75.9H117M55.7 7.2V108.3M21.2 71.9H117M63.4 7.2V108.3M21.2 63.8H117M67.2 7.2V108.3M21.2 59.8H117M71 7.2V108.3M21.2 55.7H117M74.8 7.2V108.3M21.2 51.7H117M82.5 7.2V108.3M21.2 43.6H117M86.3 7.2V108.3M21.2 39.6H117M90.2 7.2V108.3M21.2 35.5H117M94 7.2V108.3M21.2 31.5H117M101.7 7.2V108.3M21.2 23.4H117M105.5 7.2V108.3M21.2 19.3H117M109.3 7.2V108.3M21.2 15.3H117M113.2 7.2V108.3M21.2 11.2H117" stroke="#f3f3f3" stroke-width=".5" fill="none"/><path d="M21.2 7.2V108.3M21.2 108.3H117M40.4 7.2V108.3M21.2 88.1H117M59.5 7.2V108.3M21.2 67.9H117M78.7 7.2V108.3M21.2 47.6H117M97.8 7.2V108.3M21.2 27.4H117M117 7.2V108.3M21.2 7.2H117" stroke="#e6e6e6" stroke-width=".5" fill="none"/><path d="M21.2 108.3L117 7.2" stroke="#98c2e6" stroke-width="1.0"/><path d="M30.2 93.3L31.3 90.6L33.8 86.7L37.4 81.7L41.6 76L46.5 71L52.1 65.9L57.7 61.6L64.2 57.2L69.9 53.6L74.8 50.5L78.1 48.9L80.5 50.7L79.2 56.4L76.4 63.2L72.5 69.1L67.5 74.4L61.2 79.1L54.9 82.6L47.9 86.1L40.8 88.9L34.3 91.1L30.5 92.6Z" fill="#2270cc"/><g filter="url(#fh)"><path d="M88.2 71.1L87.5 73.1L86.8 75L86.1 76.8L84.6 78.4L83.2 79.8L81.9 81.2L80.6 82.5L79.4 83.7L78.1 84.8L76.5 85.6L75 86.4L73.6 87.1L72.3 87.9L71 88.5L69.7 89.2L68.4 89.8L67.1 90.3L65.8 90.8L64.5 91.3L63.2 91.9L61.8 92.4L60.5 92.9L59.1 93.5L57.6 93.9L56.1 94.3L54.5 94.7L52.8 95.2L51 95.7L49.1 96.2L47 96.7L44.8 97.2L42.2 97.8L39.6 98.2L36.6 98.5L33.3 98.8L30.5 98.3L27.8 97.3L27.1 94.5L27.1 91.5L27 88.8L28.8 85.4L30.6 82.3L32.2 79.8L33.8 77.5L35.1 75.6L36.3 73.9L37.4 72.5L38.4 71.1L39.4 69.9L40.2 68.9L41 67.8L41.8 66.9L42.7 66.1L43.5 65.3L44.3 64.6L45.1 63.9L45.8 63.3L46.5 62.6L47.2 62L47.9 61.4L48.6 60.9L49.3 60.3L50.1 59.8L50.8 59.3L51.5 58.8L52.3 58.3L53.1 57.7L53.9 57.2L54.7 56.6L55.6 55.9L56.6 55.3L57.6 54.5L58.8 53.8L60 52.9L61.4 51.9L63.1 50.7L64.9 49.6L67 48.4L69.6 46.8L72.3 45.6L75.5 44.4L78.9 43.4L81.9 43.5L85.2 43.5L87.2 45.2L88.3 47.6L89.4 49.9L90.5 52.2L90.9 54.7L90.7 57.4L90.5 60L90.4 62.4L90.2 64.7L89.8 66.9L89 69.1Z" fill-opacity=".200"/><path d="M86 71.1L85.3 73L84.6 74.7L83.9 76.4L82.5 77.8L81.2 79.1L80 80.4L78.8 81.6L77.7 82.7L76.4 83.7L75 84.5L73.7 85.2L72.4 85.9L71.1 86.6L69.9 87.2L68.8 87.8L67.6 88.4L66.4 88.9L65.2 89.4L64 89.9L62.8 90.4L61.5 90.9L60.3 91.4L59 91.9L57.6 92.3L56.2 92.7L54.7 93.2L53.1 93.7L51.4 94.2L49.6 94.7L47.7 95.2L45.5 95.7L43.1 96.3L40.5 96.8L37.6 97.2L34.3 97.7L31.4 97.4L28.3 96.8L27.5 94.3L27.5 91.2L27.9 88.3L29.7 84.9L31.5 82L33.1 79.5L34.6 77.3L35.9 75.5L37.1 73.8L38.2 72.4L39.2 71.1L40.2 70L41 69L41.8 68L42.5 67.1L43.4 66.3L44.2 65.6L45 64.9L45.7 64.3L46.4 63.6L47.1 63L47.7 62.5L48.4 61.9L49 61.3L49.7 60.9L50.4 60.4L51.1 59.9L51.8 59.4L52.5 58.9L53.3 58.3L54 57.8L54.8 57.2L55.7 56.6L56.6 56L57.6 55.3L58.7 54.5L59.9 53.7L61.3 52.7L62.8 51.7L64.6 50.6L66.6 49.4L69.1 47.9L71.8 46.6L74.9 45.3L78.3 44.2L81.4 44L84.5 44.2L86.4 45.9L87.4 48.3L88.2 50.7L89 53L89.2 55.5L89 58.2L88.7 60.6L88.4 62.9L88.1 65.1L87.6 67.2L86.8 69.2Z" fill-opacity=".079"/><path d="M83.8 71.1L83.1 72.8L82.3 74.4L81.6 75.9L80.3 77.2L79.2 78.5L78 79.6L77 80.7L75.9 81.7L74.8 82.6L73.5 83.3L72.3 84L71.1 84.7L70 85.3L68.9 85.9L67.9 86.5L66.8 87L65.7 87.5L64.6 87.9L63.5 88.4L62.4 88.9L61.2 89.4L60.1 89.9L58.9 90.3L57.6 90.8L56.3 91.2L54.9 91.6L53.4 92.1L51.9 92.6L50.1 93.1L48.3 93.7L46.2 94.3L43.9 94.9L41.4 95.4L38.6 95.9L35.4 96.5L32.3 96.5L28.9 96.3L27.8 94L28 91L28.7 87.9L30.6 84.5L32.4 81.6L34 79.2L35.5 77.1L36.8 75.3L38 73.7L39.1 72.4L40 71.1L40.9 70L41.8 69.1L42.5 68.1L43.3 67.3L44.1 66.6L44.9 65.9L45.6 65.2L46.3 64.6L46.9 64L47.6 63.4L48.2 62.9L48.8 62.3L49.5 61.8L50.1 61.4L50.8 60.9L51.4 60.4L52.1 59.9L52.8 59.5L53.5 59L54.2 58.4L55 57.9L55.8 57.3L56.7 56.7L57.6 56L58.7 55.3L59.8 54.5L61.1 53.6L62.6 52.6L64.3 51.5L66.2 50.3L68.6 48.9L71.2 47.7L74.3 46.2L77.7 45L80.9 44.6L83.8 45L85.7 46.5L86.4 49.1L87 51.5L87.6 53.8L87.6 56.4L87.2 58.9L86.8 61.2L86.4 63.4L86 65.5L85.4 67.5L84.6 69.4Z" fill-opacity=".086"/><path d="M81.6 71.1L80.8 72.7L80.1 74.1L79.4 75.5L78.2 76.7L77.1 77.8L76.1 78.8L75.1 79.8L74.2 80.7L73.2 81.5L72 82.2L70.9 82.8L69.9 83.4L68.9 84L67.9 84.5L66.9 85.1L66 85.6L65 86.1L64 86.5L63 86.9L62 87.4L60.9 87.8L59.9 88.3L58.8 88.8L57.6 89.2L56.4 89.6L55.1 90.1L53.8 90.6L52.3 91.1L50.7 91.6L48.9 92.2L46.9 92.8L44.7 93.5L42.3 94.1L39.6 94.7L36.4 95.4L33.2 95.6L29.5 95.8L28.1 93.8L28.4 90.7L29.5 87.4L31.5 84L33.3 81.2L34.9 78.9L36.3 76.8L37.6 75.1L38.8 73.6L39.9 72.3L40.9 71.1L41.7 70.1L42.5 69.2L43.3 68.3L44 67.5L44.8 66.8L45.5 66.1L46.2 65.5L46.9 64.9L47.5 64.4L48.1 63.8L48.7 63.3L49.3 62.8L49.9 62.3L50.5 61.9L51.1 61.4L51.7 61L52.4 60.5L53 60.1L53.7 59.6L54.4 59.1L55.1 58.5L55.9 58L56.7 57.4L57.6 56.8L58.6 56.1L59.7 55.3L60.9 54.5L62.3 53.5L63.9 52.5L65.8 51.3L68.1 50L70.6 48.7L73.6 47.2L77.1 45.7L80.4 45.2L83 45.7L84.9 47.2L85.4 49.8L85.8 52.3L86.1 54.7L85.9 57.2L85.4 59.6L85 61.8L84.4 64L83.9 65.9L83.2 67.8L82.4 69.5Z" fill-opacity=".094"/><path d="M79.4 71.1L78.6 72.5L77.9 73.8L77.1 75L76.1 76.1L75.1 77.1L74.2 78L73.3 78.9L72.4 79.7L71.5 80.4L70.5 81L69.5 81.6L68.6 82.2L67.7 82.7L66.9 83.2L66 83.7L65.2 84.2L64.3 84.7L63.4 85.1L62.5 85.5L61.6 85.9L60.6 86.3L59.7 86.8L58.7 87.2L57.6 87.6L56.5 88.1L55.3 88.5L54.1 89L52.7 89.5L51.2 90.1L49.5 90.7L47.7 91.3L45.5 92.1L43.2 92.7L40.5 93.4L37.4 94.2L34.1 94.7L30.1 95.3L28.4 93.5L28.8 90.4L30.3 86.9L32.4 83.6L34.2 80.8L35.8 78.6L37.1 76.6L38.4 75L39.6 73.5L40.7 72.2L41.7 71.1L42.5 70.2L43.3 69.3L44.1 68.4L44.8 67.7L45.5 67L46.2 66.4L46.9 65.8L47.5 65.3L48.1 64.8L48.6 64.2L49.2 63.8L49.7 63.3L50.3 62.8L50.9 62.4L51.5 62L52.1 61.5L52.7 61.1L53.3 60.6L53.9 60.2L54.6 59.7L55.2 59.2L56 58.7L56.8 58.1L57.6 57.5L58.6 56.9L59.6 56.1L60.8 55.3L62.1 54.4L63.6 53.4L65.4 52.3L67.5 51L70 49.7L73 48.1L76.6 46.5L79.9 45.7L82.3 46.5L84.1 47.9L84.4 50.6L84.6 53.1L84.6 55.5L84.3 58L83.7 60.3L83.1 62.5L82.4 64.5L81.8 66.3L81.1 68.1L80.3 69.7Z" fill-opacity=".104"/><path d="M77.2 71.1L76.4 72.4L75.6 73.5L74.9 74.6L74 75.5L73.1 76.4L72.3 77.2L71.5 78L70.7 78.7L69.9 79.3L69 79.9L68.2 80.4L67.4 80.9L66.6 81.4L65.9 81.9L65.1 82.4L64.4 82.8L63.6 83.2L62.8 83.6L62 84L61.2 84.4L60.3 84.8L59.5 85.2L58.6 85.7L57.6 86.1L56.6 86.5L55.5 87L54.4 87.5L53.1 88L51.7 88.5L50.2 89.1L48.4 89.9L46.4 90.6L44.1 91.3L41.5 92.1L38.4 93.1L35 93.8L30.6 94.8L28.8 93.3L29.3 90.1L31.1 86.4L33.3 83.1L35.1 80.5L36.7 78.3L38 76.4L39.2 74.8L40.4 73.4L41.5 72.2L42.5 71.1L43.3 70.2L44.1 69.4L44.8 68.6L45.5 67.9L46.2 67.3L46.9 66.7L47.5 66.1L48.1 65.6L48.6 65.1L49.2 64.7L49.7 64.2L50.2 63.7L50.7 63.3L51.3 62.9L51.8 62.5L52.4 62.1L52.9 61.7L53.5 61.2L54.1 60.8L54.7 60.3L55.4 59.9L56.1 59.3L56.8 58.8L57.6 58.2L58.5 57.6L59.5 57L60.6 56.2L61.9 55.3L63.3 54.4L65 53.3L67 52.1L69.4 50.7L72.4 49L76 47.2L79.4 46.3L81.6 47.2L83.3 48.6L83.5 51.3L83.4 53.9L83.2 56.4L82.6 58.8L81.9 61.1L81.3 63.1L80.4 65L79.6 66.8L78.9 68.3L78.1 69.8Z" fill-opacity=".116"/><path d="M75 71.1L74.1 72.2L73.4 73.2L72.6 74.1L71.9 75L71.1 75.7L70.4 76.4L69.7 77.1L68.9 77.7L68.2 78.2L67.5 78.7L66.8 79.2L66.1 79.7L65.5 80.1L64.8 80.5L64.2 81L63.5 81.4L62.9 81.8L62.2 82.2L61.5 82.6L60.8 82.9L60 83.3L59.3 83.7L58.5 84.1L57.6 84.5L56.7 85L55.7 85.4L54.7 85.9L53.5 86.4L52.2 87L50.8 87.6L49.1 88.4L47.2 89.2L45 90L42.5 90.9L39.4 91.9L35.9 92.8L31.2 94.3L29.1 93L29.7 89.8L31.9 86L34.2 82.7L36 80.1L37.5 78L38.8 76.2L40 74.6L41.3 73.3L42.3 72.1L43.3 71.1L44.1 70.3L44.9 69.5L45.6 68.7L46.3 68.1L46.9 67.5L47.5 67L48.1 66.5L48.7 66L49.2 65.5L49.7 65.1L50.2 64.6L50.7 64.2L51.2 63.8L51.7 63.4L52.2 63L52.7 62.6L53.2 62.2L53.8 61.8L54.3 61.4L54.9 61L55.5 60.5L56.2 60L56.9 59.5L57.6 59L58.5 58.4L59.4 57.8L60.4 57.1L61.6 56.3L63 55.3L64.6 54.3L66.5 53.1L68.8 51.7L71.8 49.9L75.4 48L78.9 46.8L80.8 47.9L82.5 49.3L82.5 52L82.2 54.7L81.7 57.2L80.9 59.6L80.2 61.8L79.4 63.7L78.4 65.6L77.5 67.2L76.7 68.6L75.9 69.9Z" fill-opacity=".131"/><path d="M29.2 94.5L29.8 90L32.5 85.8L36.1 80.8L40.4 74.9L45.4 69.8L51.1 64.7L56.8 60.3L63.3 55.9L69 52.2L74 49L78.3 47.3L82 50.2L80.7 56.9L77.8 64L73.7 70.1L68.6 75.6L62.1 80.5L55.7 84L48.5 87.6L41.3 90.4L34.9 92.6L31 94.1Z" fill-opacity="1"/></g><path d="M21.2 108.3L117 7.2" stroke="#98c2e6" stroke-width="1.0" opacity="0.15"/><text class="t" x="21.2" y="116.5" text-anchor="middle">0</text><text class="t" x="15.9" y="109.9" text-anchor="end">0</text><text class="t" x="40.4" y="116.5" text-anchor="middle">2</text><text class="t" x="15.9" y="89.7" text-anchor="end">2</text><text class="t" x="59.5" y="116.5" text-anchor="middle">4</text><text class="t" x="15.9" y="69.5" text-anchor="end">4</text><text class="t" x="78.7" y="116.5" text-anchor="middle">6</text><text class="t" x="15.9" y="49.2" text-anchor="end">6</text><text class="t" x="97.8" y="116.5" text-anchor="middle">8</text><text class="t" x="15.9" y="29" text-anchor="end">8</text><text class="t" x="117" y="116.5" text-anchor="middle">10</text><text class="t" x="15.9" y="8.8" text-anchor="end">10</text><text class="a" x="69.1" y="126" text-anchor="middle">FAO56 P-M (mm/day)</text><text class="y" transform="translate(9.2,57.8) rotate(-90)" text-anchor="middle">PR3_RR (mm/day)</text><text class="c" x="63.4" y="136.6" text-anchor="middle"><tspan font-weight="bold">(c4)</tspan> PR3_RR</text></g>
</svg></body></html>
